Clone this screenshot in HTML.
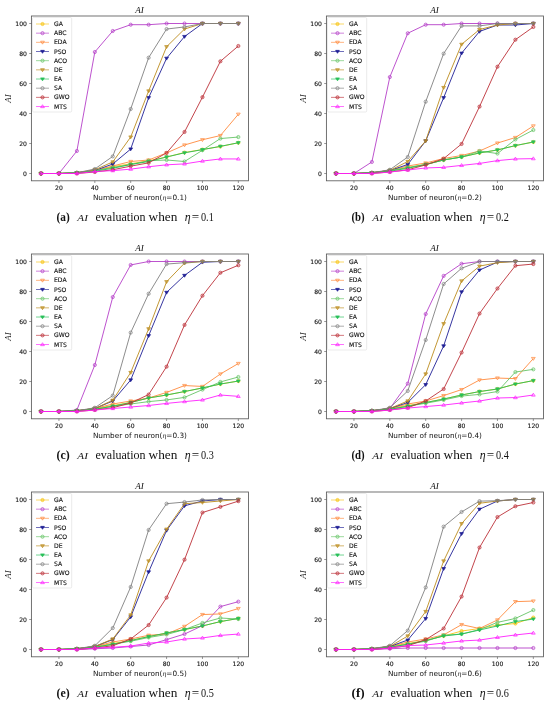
<!DOCTYPE html>
<html><head><meta charset="utf-8"><style>
html,body{margin:0;padding:0;background:#fff;}
body{width:550px;height:705px;overflow:hidden;}
svg{display:block;}
</style></head><body>
<svg width="550" height="705" viewBox="0 0 550 705">
<g transform="translate(0,0)">
<clipPath id="cla"><rect x="31.4" y="16" width="217.05" height="164.8"/></clipPath>
<g clip-path="url(#cla)">
<polyline fill="none" stroke="#f7c518" stroke-width="0.9" stroke-linejoin="round" points="41,173.5 58.94,173.5 76.88,172.75 94.82,170.5 112.76,166.75 130.7,163.75 148.64,160.75 166.58,157 184.52,152.5 202.46,149.5 220.4,146.5 238.34,142.75"/>
<g fill="#f7c518" fill-opacity="0.55" stroke="#f7c518" stroke-width="0.7">
<circle cx="41" cy="173.5" r="1.6"/>
<circle cx="58.94" cy="173.5" r="1.6"/>
<circle cx="76.88" cy="172.75" r="1.6"/>
<circle cx="94.82" cy="170.5" r="1.6"/>
<circle cx="112.76" cy="166.75" r="1.6"/>
<circle cx="130.7" cy="163.75" r="1.6"/>
<circle cx="148.64" cy="160.75" r="1.6"/>
<circle cx="166.58" cy="157" r="1.6"/>
<circle cx="184.52" cy="152.5" r="1.6"/>
<circle cx="202.46" cy="149.5" r="1.6"/>
<circle cx="220.4" cy="146.5" r="1.6"/>
<circle cx="238.34" cy="142.75" r="1.6"/>
</g>
<polyline fill="none" stroke="#b640c8" stroke-width="0.9" stroke-linejoin="round" points="41,173.5 58.94,173.5 76.88,151 94.82,52 112.76,31 130.7,24.7 148.64,24.7 166.58,23.5 184.52,23.5 202.46,23.5 220.4,23.5 238.34,23.5"/>
<g fill="#b640c8" fill-opacity="0.2" stroke="#b640c8" stroke-width="0.7">
<circle cx="41" cy="173.5" r="1.6"/>
<circle cx="58.94" cy="173.5" r="1.6"/>
<circle cx="76.88" cy="151" r="1.6"/>
<circle cx="94.82" cy="52" r="1.6"/>
<circle cx="112.76" cy="31" r="1.6"/>
<circle cx="130.7" cy="24.7" r="1.6"/>
<circle cx="148.64" cy="24.7" r="1.6"/>
<circle cx="166.58" cy="23.5" r="1.6"/>
<circle cx="184.52" cy="23.5" r="1.6"/>
<circle cx="202.46" cy="23.5" r="1.6"/>
<circle cx="220.4" cy="23.5" r="1.6"/>
<circle cx="238.34" cy="23.5" r="1.6"/>
</g>
<polyline fill="none" stroke="#ff8a3d" stroke-width="0.9" stroke-linejoin="round" points="41,173.5 58.94,173.5 76.88,172.75 94.82,170.5 112.76,166 130.7,161.5 148.64,160 166.58,152.95 184.52,145 202.46,139.75 220.4,135.55 238.34,114.25"/>
<g fill="#ff8a3d" fill-opacity="0.15" stroke="#ff8a3d" stroke-width="0.7">
<polygon points="39.1,172.36 42.9,172.36 41,175.31"/>
<polygon points="57.04,172.36 60.84,172.36 58.94,175.31"/>
<polygon points="74.98,171.61 78.78,171.61 76.88,174.56"/>
<polygon points="92.92,169.36 96.72,169.36 94.82,172.31"/>
<polygon points="110.86,164.86 114.66,164.86 112.76,167.81"/>
<polygon points="128.8,160.36 132.6,160.36 130.7,163.31"/>
<polygon points="146.74,158.86 150.54,158.86 148.64,161.81"/>
<polygon points="164.68,151.81 168.48,151.81 166.58,154.75"/>
<polygon points="182.62,143.86 186.42,143.86 184.52,146.81"/>
<polygon points="200.56,138.61 204.36,138.61 202.46,141.56"/>
<polygon points="218.5,134.41 222.3,134.41 220.4,137.36"/>
<polygon points="236.44,113.11 240.24,113.11 238.34,116.06"/>
</g>
<polyline fill="none" stroke="#1f1f95" stroke-width="0.9" stroke-linejoin="round" points="41,173.5 58.94,173.5 76.88,172.75 94.82,170.5 112.76,164.05 130.7,149.05 148.64,97.75 166.58,58.3 184.52,36.55 202.46,23.5 220.4,23.5 238.34,23.5"/>
<g fill="#1f1f95" fill-opacity="1.0" stroke="#1f1f95" stroke-width="0.7">
<polygon points="39.1,172.36 42.9,172.36 41,175.31"/>
<polygon points="57.04,172.36 60.84,172.36 58.94,175.31"/>
<polygon points="74.98,171.61 78.78,171.61 76.88,174.56"/>
<polygon points="92.92,169.36 96.72,169.36 94.82,172.31"/>
<polygon points="110.86,162.91 114.66,162.91 112.76,165.86"/>
<polygon points="128.8,147.91 132.6,147.91 130.7,150.86"/>
<polygon points="146.74,96.61 150.54,96.61 148.64,99.56"/>
<polygon points="164.68,57.16 168.48,57.16 166.58,60.11"/>
<polygon points="182.62,35.41 186.42,35.41 184.52,38.36"/>
<polygon points="200.56,22.36 204.36,22.36 202.46,25.3"/>
<polygon points="218.5,22.36 222.3,22.36 220.4,25.3"/>
<polygon points="236.44,22.36 240.24,22.36 238.34,25.3"/>
</g>
<polyline fill="none" stroke="#66c466" stroke-width="0.9" stroke-linejoin="round" points="41,173.5 58.94,173.5 76.88,172.75 94.82,170.5 112.76,167.5 130.7,164.5 148.64,160.75 166.58,160 184.52,161.5 202.46,150.25 220.4,138.55 238.34,137.05"/>
<g fill="#66c466" fill-opacity="0.2" stroke="#66c466" stroke-width="0.7">
<circle cx="41" cy="173.5" r="1.6"/>
<circle cx="58.94" cy="173.5" r="1.6"/>
<circle cx="76.88" cy="172.75" r="1.6"/>
<circle cx="94.82" cy="170.5" r="1.6"/>
<circle cx="112.76" cy="167.5" r="1.6"/>
<circle cx="130.7" cy="164.5" r="1.6"/>
<circle cx="148.64" cy="160.75" r="1.6"/>
<circle cx="166.58" cy="160" r="1.6"/>
<circle cx="184.52" cy="161.5" r="1.6"/>
<circle cx="202.46" cy="150.25" r="1.6"/>
<circle cx="220.4" cy="138.55" r="1.6"/>
<circle cx="238.34" cy="137.05" r="1.6"/>
</g>
<polyline fill="none" stroke="#bc8c1e" stroke-width="0.9" stroke-linejoin="round" points="41,173.5 58.94,173.5 76.88,172.75 94.82,169.75 112.76,161.95 130.7,137.05 148.64,91 166.58,46.75 184.52,29.05 202.46,23.5 220.4,23.5 238.34,23.5"/>
<g fill="#bc8c1e" fill-opacity="0.6" stroke="#bc8c1e" stroke-width="0.7">
<polygon points="39.1,172.36 42.9,172.36 41,175.31"/>
<polygon points="57.04,172.36 60.84,172.36 58.94,175.31"/>
<polygon points="74.98,171.61 78.78,171.61 76.88,174.56"/>
<polygon points="92.92,168.61 96.72,168.61 94.82,171.56"/>
<polygon points="110.86,160.81 114.66,160.81 112.76,163.75"/>
<polygon points="128.8,135.91 132.6,135.91 130.7,138.86"/>
<polygon points="146.74,89.86 150.54,89.86 148.64,92.81"/>
<polygon points="164.68,45.61 168.48,45.61 166.58,48.55"/>
<polygon points="182.62,27.91 186.42,27.91 184.52,30.86"/>
<polygon points="200.56,22.36 204.36,22.36 202.46,25.3"/>
<polygon points="218.5,22.36 222.3,22.36 220.4,25.3"/>
<polygon points="236.44,22.36 240.24,22.36 238.34,25.3"/>
</g>
<polyline fill="none" stroke="#26c058" stroke-width="0.9" stroke-linejoin="round" points="41,173.5 58.94,173.5 76.88,172.75 94.82,171.25 112.76,168.25 130.7,164.5 148.64,161.5 166.58,157 184.52,152.8 202.46,149.65 220.4,146.35 238.34,142.75"/>
<g fill="#26c058" fill-opacity="1.0" stroke="#26c058" stroke-width="0.7">
<polygon points="39.1,172.36 42.9,172.36 41,175.31"/>
<polygon points="57.04,172.36 60.84,172.36 58.94,175.31"/>
<polygon points="74.98,171.61 78.78,171.61 76.88,174.56"/>
<polygon points="92.92,170.11 96.72,170.11 94.82,173.06"/>
<polygon points="110.86,167.11 114.66,167.11 112.76,170.06"/>
<polygon points="128.8,163.36 132.6,163.36 130.7,166.31"/>
<polygon points="146.74,160.36 150.54,160.36 148.64,163.31"/>
<polygon points="164.68,155.86 168.48,155.86 166.58,158.81"/>
<polygon points="182.62,151.66 186.42,151.66 184.52,154.61"/>
<polygon points="200.56,148.51 204.36,148.51 202.46,151.46"/>
<polygon points="218.5,145.21 222.3,145.21 220.4,148.16"/>
<polygon points="236.44,141.61 240.24,141.61 238.34,144.56"/>
</g>
<polyline fill="none" stroke="#808080" stroke-width="0.9" stroke-linejoin="round" points="41,173.5 58.94,173.5 76.88,172.75 94.82,169 112.76,156.4 130.7,109 148.64,57.7 166.58,29.05 184.52,26.95 202.46,23.5 220.4,23.5 238.34,23.5"/>
<g fill="#808080" fill-opacity="0.1" stroke="#808080" stroke-width="0.7">
<circle cx="41" cy="173.5" r="1.6"/>
<circle cx="58.94" cy="173.5" r="1.6"/>
<circle cx="76.88" cy="172.75" r="1.6"/>
<circle cx="94.82" cy="169" r="1.6"/>
<circle cx="112.76" cy="156.4" r="1.6"/>
<circle cx="130.7" cy="109" r="1.6"/>
<circle cx="148.64" cy="57.7" r="1.6"/>
<circle cx="166.58" cy="29.05" r="1.6"/>
<circle cx="184.52" cy="26.95" r="1.6"/>
<circle cx="202.46" cy="23.5" r="1.6"/>
<circle cx="220.4" cy="23.5" r="1.6"/>
<circle cx="238.34" cy="23.5" r="1.6"/>
</g>
<polyline fill="none" stroke="#bc3038" stroke-width="0.9" stroke-linejoin="round" points="41,173.5 58.94,173.5 76.88,173.5 94.82,172 112.76,169.75 130.7,166.15 148.64,162.85 166.58,152.95 184.52,131.95 202.46,97.15 220.4,61.3 238.34,46"/>
<g fill="#bc3038" fill-opacity="0.3" stroke="#bc3038" stroke-width="0.7">
<circle cx="41" cy="173.5" r="1.6"/>
<circle cx="58.94" cy="173.5" r="1.6"/>
<circle cx="76.88" cy="173.5" r="1.6"/>
<circle cx="94.82" cy="172" r="1.6"/>
<circle cx="112.76" cy="169.75" r="1.6"/>
<circle cx="130.7" cy="166.15" r="1.6"/>
<circle cx="148.64" cy="162.85" r="1.6"/>
<circle cx="166.58" cy="152.95" r="1.6"/>
<circle cx="184.52" cy="131.95" r="1.6"/>
<circle cx="202.46" cy="97.15" r="1.6"/>
<circle cx="220.4" cy="61.3" r="1.6"/>
<circle cx="238.34" cy="46" r="1.6"/>
</g>
<polyline fill="none" stroke="#ff1fff" stroke-width="0.9" stroke-linejoin="round" points="41,173.5 58.94,173.5 76.88,173.5 94.82,171.55 112.76,170.65 130.7,169.15 148.64,166.75 166.58,164.8 184.52,163.9 202.46,161.05 220.4,158.95 238.34,158.95"/>
<g fill="#ff1fff" fill-opacity="0.15" stroke="#ff1fff" stroke-width="0.7">
<polygon points="39.1,174.64 42.9,174.64 41,171.69"/>
<polygon points="57.04,174.64 60.84,174.64 58.94,171.69"/>
<polygon points="74.98,174.64 78.78,174.64 76.88,171.69"/>
<polygon points="92.92,172.69 96.72,172.69 94.82,169.75"/>
<polygon points="110.86,171.79 114.66,171.79 112.76,168.84"/>
<polygon points="128.8,170.29 132.6,170.29 130.7,167.34"/>
<polygon points="146.74,167.89 150.54,167.89 148.64,164.94"/>
<polygon points="164.68,165.94 168.48,165.94 166.58,163"/>
<polygon points="182.62,165.04 186.42,165.04 184.52,162.09"/>
<polygon points="200.56,162.19 204.36,162.19 202.46,159.25"/>
<polygon points="218.5,160.09 222.3,160.09 220.4,157.14"/>
<polygon points="236.44,160.09 240.24,160.09 238.34,157.14"/>
</g>
</g>
<rect x="31.4" y="16" width="217.05" height="164.8" fill="none" stroke="#5a5a5a" stroke-width="0.85"/>
<g stroke="#444" stroke-width="0.55"><line x1="29.2" y1="173.5" x2="31.4" y2="173.5"/><line x1="29.2" y1="143.5" x2="31.4" y2="143.5"/><line x1="29.2" y1="113.5" x2="31.4" y2="113.5"/><line x1="29.2" y1="83.5" x2="31.4" y2="83.5"/><line x1="29.2" y1="53.5" x2="31.4" y2="53.5"/><line x1="29.2" y1="23.5" x2="31.4" y2="23.5"/><line x1="58.94" y1="180.8" x2="58.94" y2="183"/><line x1="94.82" y1="180.8" x2="94.82" y2="183"/><line x1="130.7" y1="180.8" x2="130.7" y2="183"/><line x1="166.58" y1="180.8" x2="166.58" y2="183"/><line x1="202.46" y1="180.8" x2="202.46" y2="183"/><line x1="238.34" y1="180.8" x2="238.34" y2="183"/></g>
<g font-family="DejaVu Sans, sans-serif" font-size="6.1" fill="#111" stroke="#111" stroke-width="0.12"><text x="26.9" y="175.6" text-anchor="end">0</text><text x="26.9" y="145.6" text-anchor="end">20</text><text x="26.9" y="115.6" text-anchor="end">40</text><text x="26.9" y="85.6" text-anchor="end">60</text><text x="26.9" y="55.6" text-anchor="end">80</text><text x="26.9" y="25.6" text-anchor="end">100</text><text x="58.94" y="190.1" text-anchor="middle">20</text><text x="94.82" y="190.1" text-anchor="middle">40</text><text x="130.7" y="190.1" text-anchor="middle">60</text><text x="166.58" y="190.1" text-anchor="middle">80</text><text x="202.46" y="190.1" text-anchor="middle">100</text><text x="238.34" y="190.1" text-anchor="middle">120</text></g>
<text x="139.92" y="199.6" text-anchor="middle" font-family="DejaVu Sans, sans-serif" font-size="7.3" fill="#111">Number of neuron(<tspan font-style="italic" font-size="6.2">η</tspan>=0.1)</text>
<text x="139.62" y="12.5" text-anchor="middle" font-family="Liberation Serif, serif" font-style="italic" font-size="9.1" fill="#111">AI</text>
<text transform="translate(11.4,98.5) rotate(-90)" text-anchor="middle" font-family="Liberation Serif, serif" font-style="italic" font-size="8.8" fill="#111">AI</text>
<rect x="32.5" y="17.5" width="39.2" height="94.5" rx="1.2" fill="#fff" fill-opacity="0.8" stroke="#d6d6d6" stroke-width="0.5"/>
<line x1="36" y1="24" x2="49" y2="24" stroke="#f7c518" stroke-width="0.81" stroke-opacity="0.8"/>
<g fill="#f7c518" fill-opacity="0.55" stroke="#f7c518" stroke-width="0.7"><circle cx="42.5" cy="24" r="1.6"/></g>
<text x="54" y="26.1" font-family="DejaVu Sans, sans-serif" font-size="6.1" fill="#111" stroke="#111" stroke-width="0.12">GA</text>
<line x1="36" y1="33.17" x2="49" y2="33.17" stroke="#b640c8" stroke-width="0.81" stroke-opacity="0.8"/>
<g fill="#b640c8" fill-opacity="0.2" stroke="#b640c8" stroke-width="0.7"><circle cx="42.5" cy="33.17" r="1.6"/></g>
<text x="54" y="35.27" font-family="DejaVu Sans, sans-serif" font-size="6.1" fill="#111" stroke="#111" stroke-width="0.12">ABC</text>
<line x1="36" y1="42.34" x2="49" y2="42.34" stroke="#ff8a3d" stroke-width="0.81" stroke-opacity="0.8"/>
<g fill="#ff8a3d" fill-opacity="0.15" stroke="#ff8a3d" stroke-width="0.7"><polygon points="40.6,41.2 44.4,41.2 42.5,44.15"/></g>
<text x="54" y="44.44" font-family="DejaVu Sans, sans-serif" font-size="6.1" fill="#111" stroke="#111" stroke-width="0.12">EDA</text>
<line x1="36" y1="51.51" x2="49" y2="51.51" stroke="#1f1f95" stroke-width="0.81" stroke-opacity="0.8"/>
<g fill="#1f1f95" fill-opacity="1.0" stroke="#1f1f95" stroke-width="0.7"><polygon points="40.6,50.37 44.4,50.37 42.5,53.31"/></g>
<text x="54" y="53.61" font-family="DejaVu Sans, sans-serif" font-size="6.1" fill="#111" stroke="#111" stroke-width="0.12">PSO</text>
<line x1="36" y1="60.68" x2="49" y2="60.68" stroke="#66c466" stroke-width="0.81" stroke-opacity="0.8"/>
<g fill="#66c466" fill-opacity="0.2" stroke="#66c466" stroke-width="0.7"><circle cx="42.5" cy="60.68" r="1.6"/></g>
<text x="54" y="62.78" font-family="DejaVu Sans, sans-serif" font-size="6.1" fill="#111" stroke="#111" stroke-width="0.12">ACO</text>
<line x1="36" y1="69.85" x2="49" y2="69.85" stroke="#bc8c1e" stroke-width="0.81" stroke-opacity="0.8"/>
<g fill="#bc8c1e" fill-opacity="0.6" stroke="#bc8c1e" stroke-width="0.7"><polygon points="40.6,68.71 44.4,68.71 42.5,71.66"/></g>
<text x="54" y="71.95" font-family="DejaVu Sans, sans-serif" font-size="6.1" fill="#111" stroke="#111" stroke-width="0.12">DE</text>
<line x1="36" y1="79.02" x2="49" y2="79.02" stroke="#26c058" stroke-width="0.81" stroke-opacity="0.8"/>
<g fill="#26c058" fill-opacity="1.0" stroke="#26c058" stroke-width="0.7"><polygon points="40.6,77.88 44.4,77.88 42.5,80.83"/></g>
<text x="54" y="81.12" font-family="DejaVu Sans, sans-serif" font-size="6.1" fill="#111" stroke="#111" stroke-width="0.12">EA</text>
<line x1="36" y1="88.19" x2="49" y2="88.19" stroke="#808080" stroke-width="0.81" stroke-opacity="0.8"/>
<g fill="#808080" fill-opacity="0.1" stroke="#808080" stroke-width="0.7"><circle cx="42.5" cy="88.19" r="1.6"/></g>
<text x="54" y="90.29" font-family="DejaVu Sans, sans-serif" font-size="6.1" fill="#111" stroke="#111" stroke-width="0.12">SA</text>
<line x1="36" y1="97.36" x2="49" y2="97.36" stroke="#bc3038" stroke-width="0.81" stroke-opacity="0.8"/>
<g fill="#bc3038" fill-opacity="0.3" stroke="#bc3038" stroke-width="0.7"><circle cx="42.5" cy="97.36" r="1.6"/></g>
<text x="54" y="99.46" font-family="DejaVu Sans, sans-serif" font-size="6.1" fill="#111" stroke="#111" stroke-width="0.12">GWO</text>
<line x1="36" y1="106.53" x2="49" y2="106.53" stroke="#ff1fff" stroke-width="0.81" stroke-opacity="0.8"/>
<g fill="#ff1fff" fill-opacity="0.15" stroke="#ff1fff" stroke-width="0.7"><polygon points="40.6,107.67 44.4,107.67 42.5,104.72"/></g>
<text x="54" y="108.63" font-family="DejaVu Sans, sans-serif" font-size="6.1" fill="#111" stroke="#111" stroke-width="0.12">MTS</text>
<g font-family="Liberation Serif, serif" font-size="11.8" fill="#111"><text x="56.5" y="220.7" font-weight="bold" textLength="13.2" lengthAdjust="spacingAndGlyphs">(a)</text><text x="77.3" y="220.7" font-style="italic" font-size="8.6" textLength="10.6" lengthAdjust="spacingAndGlyphs">AI</text><text x="95.5" y="220.7" textLength="50" lengthAdjust="spacingAndGlyphs">evaluation</text><text x="148.6" y="220.7" textLength="28.8" lengthAdjust="spacingAndGlyphs">when</text><text x="184.8" y="220.7" font-style="italic">η</text><text x="191.8" y="220.7" textLength="7.4" lengthAdjust="spacingAndGlyphs">=</text><text x="201" y="220.7" textLength="12.8" lengthAdjust="spacingAndGlyphs">0.1</text></g>
</g>
<g transform="translate(295,0)">
<clipPath id="clb"><rect x="31.4" y="16" width="217.05" height="164.8"/></clipPath>
<g clip-path="url(#clb)">
<polyline fill="none" stroke="#f7c518" stroke-width="0.9" stroke-linejoin="round" points="41,173.5 58.94,173.5 76.88,172.75 94.82,170.5 112.76,167.5 130.7,164.5 148.64,160 166.58,157 184.52,152.95 202.46,149.95 220.4,145.6 238.34,142"/>
<g fill="#f7c518" fill-opacity="0.55" stroke="#f7c518" stroke-width="0.7">
<circle cx="41" cy="173.5" r="1.6"/>
<circle cx="58.94" cy="173.5" r="1.6"/>
<circle cx="76.88" cy="172.75" r="1.6"/>
<circle cx="94.82" cy="170.5" r="1.6"/>
<circle cx="112.76" cy="167.5" r="1.6"/>
<circle cx="130.7" cy="164.5" r="1.6"/>
<circle cx="148.64" cy="160" r="1.6"/>
<circle cx="166.58" cy="157" r="1.6"/>
<circle cx="184.52" cy="152.95" r="1.6"/>
<circle cx="202.46" cy="149.95" r="1.6"/>
<circle cx="220.4" cy="145.6" r="1.6"/>
<circle cx="238.34" cy="142" r="1.6"/>
</g>
<polyline fill="none" stroke="#b640c8" stroke-width="0.9" stroke-linejoin="round" points="41,173.5 58.94,173.5 76.88,161.95 94.82,77.05 112.76,33.25 130.7,24.7 148.64,24.7 166.58,23.5 184.52,23.5 202.46,23.5 220.4,23.5 238.34,23.5"/>
<g fill="#b640c8" fill-opacity="0.2" stroke="#b640c8" stroke-width="0.7">
<circle cx="41" cy="173.5" r="1.6"/>
<circle cx="58.94" cy="173.5" r="1.6"/>
<circle cx="76.88" cy="161.95" r="1.6"/>
<circle cx="94.82" cy="77.05" r="1.6"/>
<circle cx="112.76" cy="33.25" r="1.6"/>
<circle cx="130.7" cy="24.7" r="1.6"/>
<circle cx="148.64" cy="24.7" r="1.6"/>
<circle cx="166.58" cy="23.5" r="1.6"/>
<circle cx="184.52" cy="23.5" r="1.6"/>
<circle cx="202.46" cy="23.5" r="1.6"/>
<circle cx="220.4" cy="23.5" r="1.6"/>
<circle cx="238.34" cy="23.5" r="1.6"/>
</g>
<polyline fill="none" stroke="#ff8a3d" stroke-width="0.9" stroke-linejoin="round" points="41,173.5 58.94,173.5 76.88,172.75 94.82,170.5 112.76,166 130.7,163 148.64,158.5 166.58,155.5 184.52,151 202.46,143.05 220.4,137.5 238.34,125.95"/>
<g fill="#ff8a3d" fill-opacity="0.15" stroke="#ff8a3d" stroke-width="0.7">
<polygon points="39.1,172.36 42.9,172.36 41,175.31"/>
<polygon points="57.04,172.36 60.84,172.36 58.94,175.31"/>
<polygon points="74.98,171.61 78.78,171.61 76.88,174.56"/>
<polygon points="92.92,169.36 96.72,169.36 94.82,172.31"/>
<polygon points="110.86,164.86 114.66,164.86 112.76,167.81"/>
<polygon points="128.8,161.86 132.6,161.86 130.7,164.81"/>
<polygon points="146.74,157.36 150.54,157.36 148.64,160.31"/>
<polygon points="164.68,154.36 168.48,154.36 166.58,157.31"/>
<polygon points="182.62,149.86 186.42,149.86 184.52,152.81"/>
<polygon points="200.56,141.91 204.36,141.91 202.46,144.86"/>
<polygon points="218.5,136.36 222.3,136.36 220.4,139.31"/>
<polygon points="236.44,124.81 240.24,124.81 238.34,127.76"/>
</g>
<polyline fill="none" stroke="#1f1f95" stroke-width="0.9" stroke-linejoin="round" points="41,173.5 58.94,173.5 76.88,172.75 94.82,170.5 112.76,164.5 130.7,140.95 148.64,97.75 166.58,53.2 184.52,31.45 202.46,25 220.4,25 238.34,23.5"/>
<g fill="#1f1f95" fill-opacity="1.0" stroke="#1f1f95" stroke-width="0.7">
<polygon points="39.1,172.36 42.9,172.36 41,175.31"/>
<polygon points="57.04,172.36 60.84,172.36 58.94,175.31"/>
<polygon points="74.98,171.61 78.78,171.61 76.88,174.56"/>
<polygon points="92.92,169.36 96.72,169.36 94.82,172.31"/>
<polygon points="110.86,163.36 114.66,163.36 112.76,166.31"/>
<polygon points="128.8,139.81 132.6,139.81 130.7,142.75"/>
<polygon points="146.74,96.61 150.54,96.61 148.64,99.56"/>
<polygon points="164.68,52.06 168.48,52.06 166.58,55"/>
<polygon points="182.62,30.31 186.42,30.31 184.52,33.25"/>
<polygon points="200.56,23.86 204.36,23.86 202.46,26.8"/>
<polygon points="218.5,23.86 222.3,23.86 220.4,26.8"/>
<polygon points="236.44,22.36 240.24,22.36 238.34,25.3"/>
</g>
<polyline fill="none" stroke="#66c466" stroke-width="0.9" stroke-linejoin="round" points="41,173.5 58.94,173.5 76.88,172.75 94.82,170.5 112.76,167.5 130.7,164.5 148.64,160 166.58,157 184.52,151 202.46,153.55 220.4,139.45 238.34,130"/>
<g fill="#66c466" fill-opacity="0.2" stroke="#66c466" stroke-width="0.7">
<circle cx="41" cy="173.5" r="1.6"/>
<circle cx="58.94" cy="173.5" r="1.6"/>
<circle cx="76.88" cy="172.75" r="1.6"/>
<circle cx="94.82" cy="170.5" r="1.6"/>
<circle cx="112.76" cy="167.5" r="1.6"/>
<circle cx="130.7" cy="164.5" r="1.6"/>
<circle cx="148.64" cy="160" r="1.6"/>
<circle cx="166.58" cy="157" r="1.6"/>
<circle cx="184.52" cy="151" r="1.6"/>
<circle cx="202.46" cy="153.55" r="1.6"/>
<circle cx="220.4" cy="139.45" r="1.6"/>
<circle cx="238.34" cy="130" r="1.6"/>
</g>
<polyline fill="none" stroke="#bc8c1e" stroke-width="0.9" stroke-linejoin="round" points="41,173.5 58.94,173.5 76.88,172.75 94.82,170.5 112.76,161.5 130.7,140.95 148.64,87.55 166.58,44.35 184.52,29.5 202.46,25 220.4,23.5 238.34,23.5"/>
<g fill="#bc8c1e" fill-opacity="0.6" stroke="#bc8c1e" stroke-width="0.7">
<polygon points="39.1,172.36 42.9,172.36 41,175.31"/>
<polygon points="57.04,172.36 60.84,172.36 58.94,175.31"/>
<polygon points="74.98,171.61 78.78,171.61 76.88,174.56"/>
<polygon points="92.92,169.36 96.72,169.36 94.82,172.31"/>
<polygon points="110.86,160.36 114.66,160.36 112.76,163.31"/>
<polygon points="128.8,139.81 132.6,139.81 130.7,142.75"/>
<polygon points="146.74,86.41 150.54,86.41 148.64,89.36"/>
<polygon points="164.68,43.21 168.48,43.21 166.58,46.16"/>
<polygon points="182.62,28.36 186.42,28.36 184.52,31.3"/>
<polygon points="200.56,23.86 204.36,23.86 202.46,26.8"/>
<polygon points="218.5,22.36 222.3,22.36 220.4,25.3"/>
<polygon points="236.44,22.36 240.24,22.36 238.34,25.3"/>
</g>
<polyline fill="none" stroke="#26c058" stroke-width="0.9" stroke-linejoin="round" points="41,173.5 58.94,173.5 76.88,172.75 94.82,171.25 112.76,168.25 130.7,164.5 148.64,160 166.58,157 184.52,152.95 202.46,149.95 220.4,145.6 238.34,142"/>
<g fill="#26c058" fill-opacity="1.0" stroke="#26c058" stroke-width="0.7">
<polygon points="39.1,172.36 42.9,172.36 41,175.31"/>
<polygon points="57.04,172.36 60.84,172.36 58.94,175.31"/>
<polygon points="74.98,171.61 78.78,171.61 76.88,174.56"/>
<polygon points="92.92,170.11 96.72,170.11 94.82,173.06"/>
<polygon points="110.86,167.11 114.66,167.11 112.76,170.06"/>
<polygon points="128.8,163.36 132.6,163.36 130.7,166.31"/>
<polygon points="146.74,158.86 150.54,158.86 148.64,161.81"/>
<polygon points="164.68,155.86 168.48,155.86 166.58,158.81"/>
<polygon points="182.62,151.81 186.42,151.81 184.52,154.75"/>
<polygon points="200.56,148.81 204.36,148.81 202.46,151.75"/>
<polygon points="218.5,144.46 222.3,144.46 220.4,147.41"/>
<polygon points="236.44,140.86 240.24,140.86 238.34,143.81"/>
</g>
<polyline fill="none" stroke="#808080" stroke-width="0.9" stroke-linejoin="round" points="41,173.5 58.94,173.5 76.88,172.75 94.82,169.75 112.76,157 130.7,101.65 148.64,53.65 166.58,25.9 184.52,25.9 202.46,23.5 220.4,23.5 238.34,23.5"/>
<g fill="#808080" fill-opacity="0.1" stroke="#808080" stroke-width="0.7">
<circle cx="41" cy="173.5" r="1.6"/>
<circle cx="58.94" cy="173.5" r="1.6"/>
<circle cx="76.88" cy="172.75" r="1.6"/>
<circle cx="94.82" cy="169.75" r="1.6"/>
<circle cx="112.76" cy="157" r="1.6"/>
<circle cx="130.7" cy="101.65" r="1.6"/>
<circle cx="148.64" cy="53.65" r="1.6"/>
<circle cx="166.58" cy="25.9" r="1.6"/>
<circle cx="184.52" cy="25.9" r="1.6"/>
<circle cx="202.46" cy="23.5" r="1.6"/>
<circle cx="220.4" cy="23.5" r="1.6"/>
<circle cx="238.34" cy="23.5" r="1.6"/>
</g>
<polyline fill="none" stroke="#bc3038" stroke-width="0.9" stroke-linejoin="round" points="41,173.5 58.94,173.5 76.88,173.5 94.82,172 112.76,169.75 130.7,164.95 148.64,158.65 166.58,143.95 184.52,106.6 202.46,66.7 220.4,39.7 238.34,26.95"/>
<g fill="#bc3038" fill-opacity="0.3" stroke="#bc3038" stroke-width="0.7">
<circle cx="41" cy="173.5" r="1.6"/>
<circle cx="58.94" cy="173.5" r="1.6"/>
<circle cx="76.88" cy="173.5" r="1.6"/>
<circle cx="94.82" cy="172" r="1.6"/>
<circle cx="112.76" cy="169.75" r="1.6"/>
<circle cx="130.7" cy="164.95" r="1.6"/>
<circle cx="148.64" cy="158.65" r="1.6"/>
<circle cx="166.58" cy="143.95" r="1.6"/>
<circle cx="184.52" cy="106.6" r="1.6"/>
<circle cx="202.46" cy="66.7" r="1.6"/>
<circle cx="220.4" cy="39.7" r="1.6"/>
<circle cx="238.34" cy="26.95" r="1.6"/>
</g>
<polyline fill="none" stroke="#ff1fff" stroke-width="0.9" stroke-linejoin="round" points="41,173.5 58.94,173.5 76.88,173.5 94.82,172 112.76,170.05 130.7,167.95 148.64,167.35 166.58,165.4 184.52,163.45 202.46,160.6 220.4,158.95 238.34,158.65"/>
<g fill="#ff1fff" fill-opacity="0.15" stroke="#ff1fff" stroke-width="0.7">
<polygon points="39.1,174.64 42.9,174.64 41,171.69"/>
<polygon points="57.04,174.64 60.84,174.64 58.94,171.69"/>
<polygon points="74.98,174.64 78.78,174.64 76.88,171.69"/>
<polygon points="92.92,173.14 96.72,173.14 94.82,170.19"/>
<polygon points="110.86,171.19 114.66,171.19 112.76,168.25"/>
<polygon points="128.8,169.09 132.6,169.09 130.7,166.14"/>
<polygon points="146.74,168.49 150.54,168.49 148.64,165.54"/>
<polygon points="164.68,166.54 168.48,166.54 166.58,163.59"/>
<polygon points="182.62,164.59 186.42,164.59 184.52,161.64"/>
<polygon points="200.56,161.74 204.36,161.74 202.46,158.79"/>
<polygon points="218.5,160.09 222.3,160.09 220.4,157.14"/>
<polygon points="236.44,159.79 240.24,159.79 238.34,156.84"/>
</g>
</g>
<rect x="31.4" y="16" width="217.05" height="164.8" fill="none" stroke="#5a5a5a" stroke-width="0.85"/>
<g stroke="#444" stroke-width="0.55"><line x1="29.2" y1="173.5" x2="31.4" y2="173.5"/><line x1="29.2" y1="143.5" x2="31.4" y2="143.5"/><line x1="29.2" y1="113.5" x2="31.4" y2="113.5"/><line x1="29.2" y1="83.5" x2="31.4" y2="83.5"/><line x1="29.2" y1="53.5" x2="31.4" y2="53.5"/><line x1="29.2" y1="23.5" x2="31.4" y2="23.5"/><line x1="58.94" y1="180.8" x2="58.94" y2="183"/><line x1="94.82" y1="180.8" x2="94.82" y2="183"/><line x1="130.7" y1="180.8" x2="130.7" y2="183"/><line x1="166.58" y1="180.8" x2="166.58" y2="183"/><line x1="202.46" y1="180.8" x2="202.46" y2="183"/><line x1="238.34" y1="180.8" x2="238.34" y2="183"/></g>
<g font-family="DejaVu Sans, sans-serif" font-size="6.1" fill="#111" stroke="#111" stroke-width="0.12"><text x="26.9" y="175.6" text-anchor="end">0</text><text x="26.9" y="145.6" text-anchor="end">20</text><text x="26.9" y="115.6" text-anchor="end">40</text><text x="26.9" y="85.6" text-anchor="end">60</text><text x="26.9" y="55.6" text-anchor="end">80</text><text x="26.9" y="25.6" text-anchor="end">100</text><text x="58.94" y="190.1" text-anchor="middle">20</text><text x="94.82" y="190.1" text-anchor="middle">40</text><text x="130.7" y="190.1" text-anchor="middle">60</text><text x="166.58" y="190.1" text-anchor="middle">80</text><text x="202.46" y="190.1" text-anchor="middle">100</text><text x="238.34" y="190.1" text-anchor="middle">120</text></g>
<text x="139.92" y="199.6" text-anchor="middle" font-family="DejaVu Sans, sans-serif" font-size="7.3" fill="#111">Number of neuron(<tspan font-style="italic" font-size="6.2">η</tspan>=0.2)</text>
<text x="139.62" y="12.5" text-anchor="middle" font-family="Liberation Serif, serif" font-style="italic" font-size="9.1" fill="#111">AI</text>
<text transform="translate(11.4,98.5) rotate(-90)" text-anchor="middle" font-family="Liberation Serif, serif" font-style="italic" font-size="8.8" fill="#111">AI</text>
<rect x="32.5" y="17.5" width="39.2" height="94.5" rx="1.2" fill="#fff" fill-opacity="0.8" stroke="#d6d6d6" stroke-width="0.5"/>
<line x1="36" y1="24" x2="49" y2="24" stroke="#f7c518" stroke-width="0.81" stroke-opacity="0.8"/>
<g fill="#f7c518" fill-opacity="0.55" stroke="#f7c518" stroke-width="0.7"><circle cx="42.5" cy="24" r="1.6"/></g>
<text x="54" y="26.1" font-family="DejaVu Sans, sans-serif" font-size="6.1" fill="#111" stroke="#111" stroke-width="0.12">GA</text>
<line x1="36" y1="33.17" x2="49" y2="33.17" stroke="#b640c8" stroke-width="0.81" stroke-opacity="0.8"/>
<g fill="#b640c8" fill-opacity="0.2" stroke="#b640c8" stroke-width="0.7"><circle cx="42.5" cy="33.17" r="1.6"/></g>
<text x="54" y="35.27" font-family="DejaVu Sans, sans-serif" font-size="6.1" fill="#111" stroke="#111" stroke-width="0.12">ABC</text>
<line x1="36" y1="42.34" x2="49" y2="42.34" stroke="#ff8a3d" stroke-width="0.81" stroke-opacity="0.8"/>
<g fill="#ff8a3d" fill-opacity="0.15" stroke="#ff8a3d" stroke-width="0.7"><polygon points="40.6,41.2 44.4,41.2 42.5,44.15"/></g>
<text x="54" y="44.44" font-family="DejaVu Sans, sans-serif" font-size="6.1" fill="#111" stroke="#111" stroke-width="0.12">EDA</text>
<line x1="36" y1="51.51" x2="49" y2="51.51" stroke="#1f1f95" stroke-width="0.81" stroke-opacity="0.8"/>
<g fill="#1f1f95" fill-opacity="1.0" stroke="#1f1f95" stroke-width="0.7"><polygon points="40.6,50.37 44.4,50.37 42.5,53.31"/></g>
<text x="54" y="53.61" font-family="DejaVu Sans, sans-serif" font-size="6.1" fill="#111" stroke="#111" stroke-width="0.12">PSO</text>
<line x1="36" y1="60.68" x2="49" y2="60.68" stroke="#66c466" stroke-width="0.81" stroke-opacity="0.8"/>
<g fill="#66c466" fill-opacity="0.2" stroke="#66c466" stroke-width="0.7"><circle cx="42.5" cy="60.68" r="1.6"/></g>
<text x="54" y="62.78" font-family="DejaVu Sans, sans-serif" font-size="6.1" fill="#111" stroke="#111" stroke-width="0.12">ACO</text>
<line x1="36" y1="69.85" x2="49" y2="69.85" stroke="#bc8c1e" stroke-width="0.81" stroke-opacity="0.8"/>
<g fill="#bc8c1e" fill-opacity="0.6" stroke="#bc8c1e" stroke-width="0.7"><polygon points="40.6,68.71 44.4,68.71 42.5,71.66"/></g>
<text x="54" y="71.95" font-family="DejaVu Sans, sans-serif" font-size="6.1" fill="#111" stroke="#111" stroke-width="0.12">DE</text>
<line x1="36" y1="79.02" x2="49" y2="79.02" stroke="#26c058" stroke-width="0.81" stroke-opacity="0.8"/>
<g fill="#26c058" fill-opacity="1.0" stroke="#26c058" stroke-width="0.7"><polygon points="40.6,77.88 44.4,77.88 42.5,80.83"/></g>
<text x="54" y="81.12" font-family="DejaVu Sans, sans-serif" font-size="6.1" fill="#111" stroke="#111" stroke-width="0.12">EA</text>
<line x1="36" y1="88.19" x2="49" y2="88.19" stroke="#808080" stroke-width="0.81" stroke-opacity="0.8"/>
<g fill="#808080" fill-opacity="0.1" stroke="#808080" stroke-width="0.7"><circle cx="42.5" cy="88.19" r="1.6"/></g>
<text x="54" y="90.29" font-family="DejaVu Sans, sans-serif" font-size="6.1" fill="#111" stroke="#111" stroke-width="0.12">SA</text>
<line x1="36" y1="97.36" x2="49" y2="97.36" stroke="#bc3038" stroke-width="0.81" stroke-opacity="0.8"/>
<g fill="#bc3038" fill-opacity="0.3" stroke="#bc3038" stroke-width="0.7"><circle cx="42.5" cy="97.36" r="1.6"/></g>
<text x="54" y="99.46" font-family="DejaVu Sans, sans-serif" font-size="6.1" fill="#111" stroke="#111" stroke-width="0.12">GWO</text>
<line x1="36" y1="106.53" x2="49" y2="106.53" stroke="#ff1fff" stroke-width="0.81" stroke-opacity="0.8"/>
<g fill="#ff1fff" fill-opacity="0.15" stroke="#ff1fff" stroke-width="0.7"><polygon points="40.6,107.67 44.4,107.67 42.5,104.72"/></g>
<text x="54" y="108.63" font-family="DejaVu Sans, sans-serif" font-size="6.1" fill="#111" stroke="#111" stroke-width="0.12">MTS</text>
<g font-family="Liberation Serif, serif" font-size="11.8" fill="#111"><text x="56.5" y="220.7" font-weight="bold" textLength="13.2" lengthAdjust="spacingAndGlyphs">(b)</text><text x="77.3" y="220.7" font-style="italic" font-size="8.6" textLength="10.6" lengthAdjust="spacingAndGlyphs">AI</text><text x="95.5" y="220.7" textLength="50" lengthAdjust="spacingAndGlyphs">evaluation</text><text x="148.6" y="220.7" textLength="28.8" lengthAdjust="spacingAndGlyphs">when</text><text x="184.8" y="220.7" font-style="italic">η</text><text x="191.8" y="220.7" textLength="7.4" lengthAdjust="spacingAndGlyphs">=</text><text x="201" y="220.7" textLength="12.8" lengthAdjust="spacingAndGlyphs">0.2</text></g>
</g>
<g transform="translate(0,238)">
<clipPath id="clc"><rect x="31.4" y="16" width="217.05" height="164.8"/></clipPath>
<g clip-path="url(#clc)">
<polyline fill="none" stroke="#f7c518" stroke-width="0.9" stroke-linejoin="round" points="41,173.5 58.94,173.5 76.88,172.75 94.82,170.5 112.76,167.5 130.7,164.5 148.64,160 166.58,157 184.52,153.55 202.46,149.95 220.4,146.05 238.34,143.05"/>
<g fill="#f7c518" fill-opacity="0.55" stroke="#f7c518" stroke-width="0.7">
<circle cx="41" cy="173.5" r="1.6"/>
<circle cx="58.94" cy="173.5" r="1.6"/>
<circle cx="76.88" cy="172.75" r="1.6"/>
<circle cx="94.82" cy="170.5" r="1.6"/>
<circle cx="112.76" cy="167.5" r="1.6"/>
<circle cx="130.7" cy="164.5" r="1.6"/>
<circle cx="148.64" cy="160" r="1.6"/>
<circle cx="166.58" cy="157" r="1.6"/>
<circle cx="184.52" cy="153.55" r="1.6"/>
<circle cx="202.46" cy="149.95" r="1.6"/>
<circle cx="220.4" cy="146.05" r="1.6"/>
<circle cx="238.34" cy="143.05" r="1.6"/>
</g>
<polyline fill="none" stroke="#b640c8" stroke-width="0.9" stroke-linejoin="round" points="41,173.5 58.94,173.5 76.88,172 94.82,127 112.76,59.05 130.7,26.95 148.64,23.5 166.58,23.5 184.52,23.5 202.46,23.5 220.4,23.5 238.34,23.5"/>
<g fill="#b640c8" fill-opacity="0.2" stroke="#b640c8" stroke-width="0.7">
<circle cx="41" cy="173.5" r="1.6"/>
<circle cx="58.94" cy="173.5" r="1.6"/>
<circle cx="76.88" cy="172" r="1.6"/>
<circle cx="94.82" cy="127" r="1.6"/>
<circle cx="112.76" cy="59.05" r="1.6"/>
<circle cx="130.7" cy="26.95" r="1.6"/>
<circle cx="148.64" cy="23.5" r="1.6"/>
<circle cx="166.58" cy="23.5" r="1.6"/>
<circle cx="184.52" cy="23.5" r="1.6"/>
<circle cx="202.46" cy="23.5" r="1.6"/>
<circle cx="220.4" cy="23.5" r="1.6"/>
<circle cx="238.34" cy="23.5" r="1.6"/>
</g>
<polyline fill="none" stroke="#ff8a3d" stroke-width="0.9" stroke-linejoin="round" points="41,173.5 58.94,173.5 76.88,172.75 94.82,170.5 112.76,166 130.7,163 148.64,160 166.58,154.45 184.52,147.55 202.46,148.45 220.4,136 238.34,125.5"/>
<g fill="#ff8a3d" fill-opacity="0.15" stroke="#ff8a3d" stroke-width="0.7">
<polygon points="39.1,172.36 42.9,172.36 41,175.31"/>
<polygon points="57.04,172.36 60.84,172.36 58.94,175.31"/>
<polygon points="74.98,171.61 78.78,171.61 76.88,174.56"/>
<polygon points="92.92,169.36 96.72,169.36 94.82,172.31"/>
<polygon points="110.86,164.86 114.66,164.86 112.76,167.81"/>
<polygon points="128.8,161.86 132.6,161.86 130.7,164.81"/>
<polygon points="146.74,158.86 150.54,158.86 148.64,161.81"/>
<polygon points="164.68,153.31 168.48,153.31 166.58,156.25"/>
<polygon points="182.62,146.41 186.42,146.41 184.52,149.36"/>
<polygon points="200.56,147.31 204.36,147.31 202.46,150.25"/>
<polygon points="218.5,134.86 222.3,134.86 220.4,137.81"/>
<polygon points="236.44,124.36 240.24,124.36 238.34,127.31"/>
</g>
<polyline fill="none" stroke="#1f1f95" stroke-width="0.9" stroke-linejoin="round" points="41,173.5 58.94,173.5 76.88,172.75 94.82,170.5 112.76,163 130.7,142 148.64,97.75 166.58,54.4 184.52,37.45 202.46,24.25 220.4,23.5 238.34,23.5"/>
<g fill="#1f1f95" fill-opacity="1.0" stroke="#1f1f95" stroke-width="0.7">
<polygon points="39.1,172.36 42.9,172.36 41,175.31"/>
<polygon points="57.04,172.36 60.84,172.36 58.94,175.31"/>
<polygon points="74.98,171.61 78.78,171.61 76.88,174.56"/>
<polygon points="92.92,169.36 96.72,169.36 94.82,172.31"/>
<polygon points="110.86,161.86 114.66,161.86 112.76,164.81"/>
<polygon points="128.8,140.86 132.6,140.86 130.7,143.81"/>
<polygon points="146.74,96.61 150.54,96.61 148.64,99.56"/>
<polygon points="164.68,53.26 168.48,53.26 166.58,56.2"/>
<polygon points="182.62,36.31 186.42,36.31 184.52,39.25"/>
<polygon points="200.56,23.11 204.36,23.11 202.46,26.05"/>
<polygon points="218.5,22.36 222.3,22.36 220.4,25.3"/>
<polygon points="236.44,22.36 240.24,22.36 238.34,25.3"/>
</g>
<polyline fill="none" stroke="#66c466" stroke-width="0.9" stroke-linejoin="round" points="41,173.5 58.94,173.5 76.88,172.75 94.82,171.25 112.76,168.25 130.7,166 148.64,163.6 166.58,161.95 184.52,159.4 202.46,151.6 220.4,143.95 238.34,139"/>
<g fill="#66c466" fill-opacity="0.2" stroke="#66c466" stroke-width="0.7">
<circle cx="41" cy="173.5" r="1.6"/>
<circle cx="58.94" cy="173.5" r="1.6"/>
<circle cx="76.88" cy="172.75" r="1.6"/>
<circle cx="94.82" cy="171.25" r="1.6"/>
<circle cx="112.76" cy="168.25" r="1.6"/>
<circle cx="130.7" cy="166" r="1.6"/>
<circle cx="148.64" cy="163.6" r="1.6"/>
<circle cx="166.58" cy="161.95" r="1.6"/>
<circle cx="184.52" cy="159.4" r="1.6"/>
<circle cx="202.46" cy="151.6" r="1.6"/>
<circle cx="220.4" cy="143.95" r="1.6"/>
<circle cx="238.34" cy="139" r="1.6"/>
</g>
<polyline fill="none" stroke="#bc8c1e" stroke-width="0.9" stroke-linejoin="round" points="41,173.5 58.94,173.5 76.88,172.75 94.82,170.5 112.76,162.25 130.7,134.5 148.64,90.85 166.58,43.75 184.52,25.15 202.46,23.5 220.4,23.5 238.34,23.5"/>
<g fill="#bc8c1e" fill-opacity="0.6" stroke="#bc8c1e" stroke-width="0.7">
<polygon points="39.1,172.36 42.9,172.36 41,175.31"/>
<polygon points="57.04,172.36 60.84,172.36 58.94,175.31"/>
<polygon points="74.98,171.61 78.78,171.61 76.88,174.56"/>
<polygon points="92.92,169.36 96.72,169.36 94.82,172.31"/>
<polygon points="110.86,161.11 114.66,161.11 112.76,164.06"/>
<polygon points="128.8,133.36 132.6,133.36 130.7,136.31"/>
<polygon points="146.74,89.71 150.54,89.71 148.64,92.66"/>
<polygon points="164.68,42.61 168.48,42.61 166.58,45.55"/>
<polygon points="182.62,24.01 186.42,24.01 184.52,26.95"/>
<polygon points="200.56,22.36 204.36,22.36 202.46,25.3"/>
<polygon points="218.5,22.36 222.3,22.36 220.4,25.3"/>
<polygon points="236.44,22.36 240.24,22.36 238.34,25.3"/>
</g>
<polyline fill="none" stroke="#26c058" stroke-width="0.9" stroke-linejoin="round" points="41,173.5 58.94,173.5 76.88,172.75 94.82,171.25 112.76,168.25 130.7,164.5 148.64,160 166.58,157 184.52,153.55 202.46,149.95 220.4,146.05 238.34,143.05"/>
<g fill="#26c058" fill-opacity="1.0" stroke="#26c058" stroke-width="0.7">
<polygon points="39.1,172.36 42.9,172.36 41,175.31"/>
<polygon points="57.04,172.36 60.84,172.36 58.94,175.31"/>
<polygon points="74.98,171.61 78.78,171.61 76.88,174.56"/>
<polygon points="92.92,170.11 96.72,170.11 94.82,173.06"/>
<polygon points="110.86,167.11 114.66,167.11 112.76,170.06"/>
<polygon points="128.8,163.36 132.6,163.36 130.7,166.31"/>
<polygon points="146.74,158.86 150.54,158.86 148.64,161.81"/>
<polygon points="164.68,155.86 168.48,155.86 166.58,158.81"/>
<polygon points="182.62,152.41 186.42,152.41 184.52,155.36"/>
<polygon points="200.56,148.81 204.36,148.81 202.46,151.75"/>
<polygon points="218.5,144.91 222.3,144.91 220.4,147.86"/>
<polygon points="236.44,141.91 240.24,141.91 238.34,144.86"/>
</g>
<polyline fill="none" stroke="#808080" stroke-width="0.9" stroke-linejoin="round" points="41,173.5 58.94,173.5 76.88,172.75 94.82,169.75 112.76,157.6 130.7,94.6 148.64,55.75 166.58,26.05 184.52,24.7 202.46,23.5 220.4,23.5 238.34,23.5"/>
<g fill="#808080" fill-opacity="0.1" stroke="#808080" stroke-width="0.7">
<circle cx="41" cy="173.5" r="1.6"/>
<circle cx="58.94" cy="173.5" r="1.6"/>
<circle cx="76.88" cy="172.75" r="1.6"/>
<circle cx="94.82" cy="169.75" r="1.6"/>
<circle cx="112.76" cy="157.6" r="1.6"/>
<circle cx="130.7" cy="94.6" r="1.6"/>
<circle cx="148.64" cy="55.75" r="1.6"/>
<circle cx="166.58" cy="26.05" r="1.6"/>
<circle cx="184.52" cy="24.7" r="1.6"/>
<circle cx="202.46" cy="23.5" r="1.6"/>
<circle cx="220.4" cy="23.5" r="1.6"/>
<circle cx="238.34" cy="23.5" r="1.6"/>
</g>
<polyline fill="none" stroke="#bc3038" stroke-width="0.9" stroke-linejoin="round" points="41,173.5 58.94,173.5 76.88,173.5 94.82,172 112.76,169.75 130.7,164.95 148.64,156.55 166.58,128.65 184.52,86.95 202.46,57.7 220.4,34.75 238.34,27.25"/>
<g fill="#bc3038" fill-opacity="0.3" stroke="#bc3038" stroke-width="0.7">
<circle cx="41" cy="173.5" r="1.6"/>
<circle cx="58.94" cy="173.5" r="1.6"/>
<circle cx="76.88" cy="173.5" r="1.6"/>
<circle cx="94.82" cy="172" r="1.6"/>
<circle cx="112.76" cy="169.75" r="1.6"/>
<circle cx="130.7" cy="164.95" r="1.6"/>
<circle cx="148.64" cy="156.55" r="1.6"/>
<circle cx="166.58" cy="128.65" r="1.6"/>
<circle cx="184.52" cy="86.95" r="1.6"/>
<circle cx="202.46" cy="57.7" r="1.6"/>
<circle cx="220.4" cy="34.75" r="1.6"/>
<circle cx="238.34" cy="27.25" r="1.6"/>
</g>
<polyline fill="none" stroke="#ff1fff" stroke-width="0.9" stroke-linejoin="round" points="41,173.5 58.94,173.5 76.88,173.5 94.82,172 112.76,170.5 130.7,169 148.64,167.5 166.58,165.4 184.52,163.6 202.46,161.95 220.4,157 238.34,158.35"/>
<g fill="#ff1fff" fill-opacity="0.15" stroke="#ff1fff" stroke-width="0.7">
<polygon points="39.1,174.64 42.9,174.64 41,171.69"/>
<polygon points="57.04,174.64 60.84,174.64 58.94,171.69"/>
<polygon points="74.98,174.64 78.78,174.64 76.88,171.69"/>
<polygon points="92.92,173.14 96.72,173.14 94.82,170.19"/>
<polygon points="110.86,171.64 114.66,171.64 112.76,168.69"/>
<polygon points="128.8,170.14 132.6,170.14 130.7,167.19"/>
<polygon points="146.74,168.64 150.54,168.64 148.64,165.69"/>
<polygon points="164.68,166.54 168.48,166.54 166.58,163.59"/>
<polygon points="182.62,164.74 186.42,164.74 184.52,161.79"/>
<polygon points="200.56,163.09 204.36,163.09 202.46,160.14"/>
<polygon points="218.5,158.14 222.3,158.14 220.4,155.19"/>
<polygon points="236.44,159.49 240.24,159.49 238.34,156.54"/>
</g>
</g>
<rect x="31.4" y="16" width="217.05" height="164.8" fill="none" stroke="#5a5a5a" stroke-width="0.85"/>
<g stroke="#444" stroke-width="0.55"><line x1="29.2" y1="173.5" x2="31.4" y2="173.5"/><line x1="29.2" y1="143.5" x2="31.4" y2="143.5"/><line x1="29.2" y1="113.5" x2="31.4" y2="113.5"/><line x1="29.2" y1="83.5" x2="31.4" y2="83.5"/><line x1="29.2" y1="53.5" x2="31.4" y2="53.5"/><line x1="29.2" y1="23.5" x2="31.4" y2="23.5"/><line x1="58.94" y1="180.8" x2="58.94" y2="183"/><line x1="94.82" y1="180.8" x2="94.82" y2="183"/><line x1="130.7" y1="180.8" x2="130.7" y2="183"/><line x1="166.58" y1="180.8" x2="166.58" y2="183"/><line x1="202.46" y1="180.8" x2="202.46" y2="183"/><line x1="238.34" y1="180.8" x2="238.34" y2="183"/></g>
<g font-family="DejaVu Sans, sans-serif" font-size="6.1" fill="#111" stroke="#111" stroke-width="0.12"><text x="26.9" y="175.6" text-anchor="end">0</text><text x="26.9" y="145.6" text-anchor="end">20</text><text x="26.9" y="115.6" text-anchor="end">40</text><text x="26.9" y="85.6" text-anchor="end">60</text><text x="26.9" y="55.6" text-anchor="end">80</text><text x="26.9" y="25.6" text-anchor="end">100</text><text x="58.94" y="190.1" text-anchor="middle">20</text><text x="94.82" y="190.1" text-anchor="middle">40</text><text x="130.7" y="190.1" text-anchor="middle">60</text><text x="166.58" y="190.1" text-anchor="middle">80</text><text x="202.46" y="190.1" text-anchor="middle">100</text><text x="238.34" y="190.1" text-anchor="middle">120</text></g>
<text x="139.92" y="199.6" text-anchor="middle" font-family="DejaVu Sans, sans-serif" font-size="7.3" fill="#111">Number of neuron(<tspan font-style="italic" font-size="6.2">η</tspan>=0.3)</text>
<text x="139.62" y="12.5" text-anchor="middle" font-family="Liberation Serif, serif" font-style="italic" font-size="9.1" fill="#111">AI</text>
<text transform="translate(11.4,98.5) rotate(-90)" text-anchor="middle" font-family="Liberation Serif, serif" font-style="italic" font-size="8.8" fill="#111">AI</text>
<rect x="32.5" y="17.5" width="39.2" height="94.5" rx="1.2" fill="#fff" fill-opacity="0.8" stroke="#d6d6d6" stroke-width="0.5"/>
<line x1="36" y1="24" x2="49" y2="24" stroke="#f7c518" stroke-width="0.81" stroke-opacity="0.8"/>
<g fill="#f7c518" fill-opacity="0.55" stroke="#f7c518" stroke-width="0.7"><circle cx="42.5" cy="24" r="1.6"/></g>
<text x="54" y="26.1" font-family="DejaVu Sans, sans-serif" font-size="6.1" fill="#111" stroke="#111" stroke-width="0.12">GA</text>
<line x1="36" y1="33.17" x2="49" y2="33.17" stroke="#b640c8" stroke-width="0.81" stroke-opacity="0.8"/>
<g fill="#b640c8" fill-opacity="0.2" stroke="#b640c8" stroke-width="0.7"><circle cx="42.5" cy="33.17" r="1.6"/></g>
<text x="54" y="35.27" font-family="DejaVu Sans, sans-serif" font-size="6.1" fill="#111" stroke="#111" stroke-width="0.12">ABC</text>
<line x1="36" y1="42.34" x2="49" y2="42.34" stroke="#ff8a3d" stroke-width="0.81" stroke-opacity="0.8"/>
<g fill="#ff8a3d" fill-opacity="0.15" stroke="#ff8a3d" stroke-width="0.7"><polygon points="40.6,41.2 44.4,41.2 42.5,44.15"/></g>
<text x="54" y="44.44" font-family="DejaVu Sans, sans-serif" font-size="6.1" fill="#111" stroke="#111" stroke-width="0.12">EDA</text>
<line x1="36" y1="51.51" x2="49" y2="51.51" stroke="#1f1f95" stroke-width="0.81" stroke-opacity="0.8"/>
<g fill="#1f1f95" fill-opacity="1.0" stroke="#1f1f95" stroke-width="0.7"><polygon points="40.6,50.37 44.4,50.37 42.5,53.31"/></g>
<text x="54" y="53.61" font-family="DejaVu Sans, sans-serif" font-size="6.1" fill="#111" stroke="#111" stroke-width="0.12">PSO</text>
<line x1="36" y1="60.68" x2="49" y2="60.68" stroke="#66c466" stroke-width="0.81" stroke-opacity="0.8"/>
<g fill="#66c466" fill-opacity="0.2" stroke="#66c466" stroke-width="0.7"><circle cx="42.5" cy="60.68" r="1.6"/></g>
<text x="54" y="62.78" font-family="DejaVu Sans, sans-serif" font-size="6.1" fill="#111" stroke="#111" stroke-width="0.12">ACO</text>
<line x1="36" y1="69.85" x2="49" y2="69.85" stroke="#bc8c1e" stroke-width="0.81" stroke-opacity="0.8"/>
<g fill="#bc8c1e" fill-opacity="0.6" stroke="#bc8c1e" stroke-width="0.7"><polygon points="40.6,68.71 44.4,68.71 42.5,71.66"/></g>
<text x="54" y="71.95" font-family="DejaVu Sans, sans-serif" font-size="6.1" fill="#111" stroke="#111" stroke-width="0.12">DE</text>
<line x1="36" y1="79.02" x2="49" y2="79.02" stroke="#26c058" stroke-width="0.81" stroke-opacity="0.8"/>
<g fill="#26c058" fill-opacity="1.0" stroke="#26c058" stroke-width="0.7"><polygon points="40.6,77.88 44.4,77.88 42.5,80.83"/></g>
<text x="54" y="81.12" font-family="DejaVu Sans, sans-serif" font-size="6.1" fill="#111" stroke="#111" stroke-width="0.12">EA</text>
<line x1="36" y1="88.19" x2="49" y2="88.19" stroke="#808080" stroke-width="0.81" stroke-opacity="0.8"/>
<g fill="#808080" fill-opacity="0.1" stroke="#808080" stroke-width="0.7"><circle cx="42.5" cy="88.19" r="1.6"/></g>
<text x="54" y="90.29" font-family="DejaVu Sans, sans-serif" font-size="6.1" fill="#111" stroke="#111" stroke-width="0.12">SA</text>
<line x1="36" y1="97.36" x2="49" y2="97.36" stroke="#bc3038" stroke-width="0.81" stroke-opacity="0.8"/>
<g fill="#bc3038" fill-opacity="0.3" stroke="#bc3038" stroke-width="0.7"><circle cx="42.5" cy="97.36" r="1.6"/></g>
<text x="54" y="99.46" font-family="DejaVu Sans, sans-serif" font-size="6.1" fill="#111" stroke="#111" stroke-width="0.12">GWO</text>
<line x1="36" y1="106.53" x2="49" y2="106.53" stroke="#ff1fff" stroke-width="0.81" stroke-opacity="0.8"/>
<g fill="#ff1fff" fill-opacity="0.15" stroke="#ff1fff" stroke-width="0.7"><polygon points="40.6,107.67 44.4,107.67 42.5,104.72"/></g>
<text x="54" y="108.63" font-family="DejaVu Sans, sans-serif" font-size="6.1" fill="#111" stroke="#111" stroke-width="0.12">MTS</text>
<g font-family="Liberation Serif, serif" font-size="11.8" fill="#111"><text x="56.5" y="220.7" font-weight="bold" textLength="13.2" lengthAdjust="spacingAndGlyphs">(c)</text><text x="77.3" y="220.7" font-style="italic" font-size="8.6" textLength="10.6" lengthAdjust="spacingAndGlyphs">AI</text><text x="95.5" y="220.7" textLength="50" lengthAdjust="spacingAndGlyphs">evaluation</text><text x="148.6" y="220.7" textLength="28.8" lengthAdjust="spacingAndGlyphs">when</text><text x="184.8" y="220.7" font-style="italic">η</text><text x="191.8" y="220.7" textLength="7.4" lengthAdjust="spacingAndGlyphs">=</text><text x="201" y="220.7" textLength="12.8" lengthAdjust="spacingAndGlyphs">0.3</text></g>
</g>
<g transform="translate(295,238)">
<clipPath id="cld"><rect x="31.4" y="16" width="217.05" height="164.8"/></clipPath>
<g clip-path="url(#cld)">
<polyline fill="none" stroke="#f7c518" stroke-width="0.9" stroke-linejoin="round" points="41,173.5 58.94,173.5 76.88,172.75 94.82,170.5 112.76,167.5 130.7,164.5 148.64,161.05 166.58,157 184.52,153.55 202.46,151 220.4,146.05 238.34,142.6"/>
<g fill="#f7c518" fill-opacity="0.55" stroke="#f7c518" stroke-width="0.7">
<circle cx="41" cy="173.5" r="1.6"/>
<circle cx="58.94" cy="173.5" r="1.6"/>
<circle cx="76.88" cy="172.75" r="1.6"/>
<circle cx="94.82" cy="170.5" r="1.6"/>
<circle cx="112.76" cy="167.5" r="1.6"/>
<circle cx="130.7" cy="164.5" r="1.6"/>
<circle cx="148.64" cy="161.05" r="1.6"/>
<circle cx="166.58" cy="157" r="1.6"/>
<circle cx="184.52" cy="153.55" r="1.6"/>
<circle cx="202.46" cy="151" r="1.6"/>
<circle cx="220.4" cy="146.05" r="1.6"/>
<circle cx="238.34" cy="142.6" r="1.6"/>
</g>
<polyline fill="none" stroke="#b640c8" stroke-width="0.9" stroke-linejoin="round" points="41,173.5 58.94,173.5 76.88,172.75 94.82,170.5 112.76,145.6 130.7,76 148.64,37.9 166.58,25.75 184.52,23.5 202.46,23.5 220.4,23.5 238.34,23.5"/>
<g fill="#b640c8" fill-opacity="0.2" stroke="#b640c8" stroke-width="0.7">
<circle cx="41" cy="173.5" r="1.6"/>
<circle cx="58.94" cy="173.5" r="1.6"/>
<circle cx="76.88" cy="172.75" r="1.6"/>
<circle cx="94.82" cy="170.5" r="1.6"/>
<circle cx="112.76" cy="145.6" r="1.6"/>
<circle cx="130.7" cy="76" r="1.6"/>
<circle cx="148.64" cy="37.9" r="1.6"/>
<circle cx="166.58" cy="25.75" r="1.6"/>
<circle cx="184.52" cy="23.5" r="1.6"/>
<circle cx="202.46" cy="23.5" r="1.6"/>
<circle cx="220.4" cy="23.5" r="1.6"/>
<circle cx="238.34" cy="23.5" r="1.6"/>
</g>
<polyline fill="none" stroke="#ff8a3d" stroke-width="0.9" stroke-linejoin="round" points="41,173.5 58.94,173.5 76.88,172.75 94.82,170.5 112.76,166 130.7,163 148.64,157.6 166.58,151.6 184.52,142 202.46,140.05 220.4,140.65 238.34,120.55"/>
<g fill="#ff8a3d" fill-opacity="0.15" stroke="#ff8a3d" stroke-width="0.7">
<polygon points="39.1,172.36 42.9,172.36 41,175.31"/>
<polygon points="57.04,172.36 60.84,172.36 58.94,175.31"/>
<polygon points="74.98,171.61 78.78,171.61 76.88,174.56"/>
<polygon points="92.92,169.36 96.72,169.36 94.82,172.31"/>
<polygon points="110.86,164.86 114.66,164.86 112.76,167.81"/>
<polygon points="128.8,161.86 132.6,161.86 130.7,164.81"/>
<polygon points="146.74,156.46 150.54,156.46 148.64,159.41"/>
<polygon points="164.68,150.46 168.48,150.46 166.58,153.41"/>
<polygon points="182.62,140.86 186.42,140.86 184.52,143.81"/>
<polygon points="200.56,138.91 204.36,138.91 202.46,141.86"/>
<polygon points="218.5,139.51 222.3,139.51 220.4,142.46"/>
<polygon points="236.44,119.41 240.24,119.41 238.34,122.36"/>
</g>
<polyline fill="none" stroke="#1f1f95" stroke-width="0.9" stroke-linejoin="round" points="41,173.5 58.94,173.5 76.88,172.75 94.82,170.5 112.76,164.5 130.7,146.65 148.64,107.95 166.58,53.95 184.52,32.05 202.46,24.1 220.4,23.5 238.34,23.5"/>
<g fill="#1f1f95" fill-opacity="1.0" stroke="#1f1f95" stroke-width="0.7">
<polygon points="39.1,172.36 42.9,172.36 41,175.31"/>
<polygon points="57.04,172.36 60.84,172.36 58.94,175.31"/>
<polygon points="74.98,171.61 78.78,171.61 76.88,174.56"/>
<polygon points="92.92,169.36 96.72,169.36 94.82,172.31"/>
<polygon points="110.86,163.36 114.66,163.36 112.76,166.31"/>
<polygon points="128.8,145.51 132.6,145.51 130.7,148.46"/>
<polygon points="146.74,106.81 150.54,106.81 148.64,109.75"/>
<polygon points="164.68,52.81 168.48,52.81 166.58,55.75"/>
<polygon points="182.62,30.91 186.42,30.91 184.52,33.86"/>
<polygon points="200.56,22.96 204.36,22.96 202.46,25.91"/>
<polygon points="218.5,22.36 222.3,22.36 220.4,25.3"/>
<polygon points="236.44,22.36 240.24,22.36 238.34,25.3"/>
</g>
<polyline fill="none" stroke="#66c466" stroke-width="0.9" stroke-linejoin="round" points="41,173.5 58.94,173.5 76.88,172.75 94.82,171.25 112.76,168.25 130.7,165.25 148.64,161.95 166.58,158.05 184.52,156.4 202.46,153.55 220.4,134.05 238.34,131.35"/>
<g fill="#66c466" fill-opacity="0.2" stroke="#66c466" stroke-width="0.7">
<circle cx="41" cy="173.5" r="1.6"/>
<circle cx="58.94" cy="173.5" r="1.6"/>
<circle cx="76.88" cy="172.75" r="1.6"/>
<circle cx="94.82" cy="171.25" r="1.6"/>
<circle cx="112.76" cy="168.25" r="1.6"/>
<circle cx="130.7" cy="165.25" r="1.6"/>
<circle cx="148.64" cy="161.95" r="1.6"/>
<circle cx="166.58" cy="158.05" r="1.6"/>
<circle cx="184.52" cy="156.4" r="1.6"/>
<circle cx="202.46" cy="153.55" r="1.6"/>
<circle cx="220.4" cy="134.05" r="1.6"/>
<circle cx="238.34" cy="131.35" r="1.6"/>
</g>
<polyline fill="none" stroke="#bc8c1e" stroke-width="0.9" stroke-linejoin="round" points="41,173.5 58.94,173.5 76.88,172.75 94.82,170.5 112.76,163 130.7,136 148.64,85.75 166.58,43 184.52,28.15 202.46,24.7 220.4,23.5 238.34,23.5"/>
<g fill="#bc8c1e" fill-opacity="0.6" stroke="#bc8c1e" stroke-width="0.7">
<polygon points="39.1,172.36 42.9,172.36 41,175.31"/>
<polygon points="57.04,172.36 60.84,172.36 58.94,175.31"/>
<polygon points="74.98,171.61 78.78,171.61 76.88,174.56"/>
<polygon points="92.92,169.36 96.72,169.36 94.82,172.31"/>
<polygon points="110.86,161.86 114.66,161.86 112.76,164.81"/>
<polygon points="128.8,134.86 132.6,134.86 130.7,137.81"/>
<polygon points="146.74,84.61 150.54,84.61 148.64,87.56"/>
<polygon points="164.68,41.86 168.48,41.86 166.58,44.8"/>
<polygon points="182.62,27.01 186.42,27.01 184.52,29.95"/>
<polygon points="200.56,23.56 204.36,23.56 202.46,26.5"/>
<polygon points="218.5,22.36 222.3,22.36 220.4,25.3"/>
<polygon points="236.44,22.36 240.24,22.36 238.34,25.3"/>
</g>
<polyline fill="none" stroke="#26c058" stroke-width="0.9" stroke-linejoin="round" points="41,173.5 58.94,173.5 76.88,172.75 94.82,171.25 112.76,168.25 130.7,164.5 148.64,161.05 166.58,157 184.52,153.55 202.46,151 220.4,146.05 238.34,142.6"/>
<g fill="#26c058" fill-opacity="1.0" stroke="#26c058" stroke-width="0.7">
<polygon points="39.1,172.36 42.9,172.36 41,175.31"/>
<polygon points="57.04,172.36 60.84,172.36 58.94,175.31"/>
<polygon points="74.98,171.61 78.78,171.61 76.88,174.56"/>
<polygon points="92.92,170.11 96.72,170.11 94.82,173.06"/>
<polygon points="110.86,167.11 114.66,167.11 112.76,170.06"/>
<polygon points="128.8,163.36 132.6,163.36 130.7,166.31"/>
<polygon points="146.74,159.91 150.54,159.91 148.64,162.86"/>
<polygon points="164.68,155.86 168.48,155.86 166.58,158.81"/>
<polygon points="182.62,152.41 186.42,152.41 184.52,155.36"/>
<polygon points="200.56,149.86 204.36,149.86 202.46,152.81"/>
<polygon points="218.5,144.91 222.3,144.91 220.4,147.86"/>
<polygon points="236.44,141.46 240.24,141.46 238.34,144.41"/>
</g>
<polyline fill="none" stroke="#808080" stroke-width="0.9" stroke-linejoin="round" points="41,173.5 58.94,173.5 76.88,172.75 94.82,169.75 112.76,152.95 130.7,101.95 148.64,46 166.58,30.25 184.52,23.5 202.46,23.5 220.4,23.5 238.34,23.5"/>
<g fill="#808080" fill-opacity="0.1" stroke="#808080" stroke-width="0.7">
<circle cx="41" cy="173.5" r="1.6"/>
<circle cx="58.94" cy="173.5" r="1.6"/>
<circle cx="76.88" cy="172.75" r="1.6"/>
<circle cx="94.82" cy="169.75" r="1.6"/>
<circle cx="112.76" cy="152.95" r="1.6"/>
<circle cx="130.7" cy="101.95" r="1.6"/>
<circle cx="148.64" cy="46" r="1.6"/>
<circle cx="166.58" cy="30.25" r="1.6"/>
<circle cx="184.52" cy="23.5" r="1.6"/>
<circle cx="202.46" cy="23.5" r="1.6"/>
<circle cx="220.4" cy="23.5" r="1.6"/>
<circle cx="238.34" cy="23.5" r="1.6"/>
</g>
<polyline fill="none" stroke="#bc3038" stroke-width="0.9" stroke-linejoin="round" points="41,173.5 58.94,173.5 76.88,173.5 94.82,172 112.76,169.75 130.7,163 148.64,151 166.58,114.55 184.52,75.55 202.46,50.5 220.4,27.7 238.34,26.05"/>
<g fill="#bc3038" fill-opacity="0.3" stroke="#bc3038" stroke-width="0.7">
<circle cx="41" cy="173.5" r="1.6"/>
<circle cx="58.94" cy="173.5" r="1.6"/>
<circle cx="76.88" cy="173.5" r="1.6"/>
<circle cx="94.82" cy="172" r="1.6"/>
<circle cx="112.76" cy="169.75" r="1.6"/>
<circle cx="130.7" cy="163" r="1.6"/>
<circle cx="148.64" cy="151" r="1.6"/>
<circle cx="166.58" cy="114.55" r="1.6"/>
<circle cx="184.52" cy="75.55" r="1.6"/>
<circle cx="202.46" cy="50.5" r="1.6"/>
<circle cx="220.4" cy="27.7" r="1.6"/>
<circle cx="238.34" cy="26.05" r="1.6"/>
</g>
<polyline fill="none" stroke="#ff1fff" stroke-width="0.9" stroke-linejoin="round" points="41,173.5 58.94,173.5 76.88,173.5 94.82,172 112.76,170.05 130.7,168.55 148.64,167.05 166.58,164.95 184.52,163 202.46,160 220.4,159.55 238.34,157"/>
<g fill="#ff1fff" fill-opacity="0.15" stroke="#ff1fff" stroke-width="0.7">
<polygon points="39.1,174.64 42.9,174.64 41,171.69"/>
<polygon points="57.04,174.64 60.84,174.64 58.94,171.69"/>
<polygon points="74.98,174.64 78.78,174.64 76.88,171.69"/>
<polygon points="92.92,173.14 96.72,173.14 94.82,170.19"/>
<polygon points="110.86,171.19 114.66,171.19 112.76,168.25"/>
<polygon points="128.8,169.69 132.6,169.69 130.7,166.75"/>
<polygon points="146.74,168.19 150.54,168.19 148.64,165.25"/>
<polygon points="164.68,166.09 168.48,166.09 166.58,163.14"/>
<polygon points="182.62,164.14 186.42,164.14 184.52,161.19"/>
<polygon points="200.56,161.14 204.36,161.14 202.46,158.19"/>
<polygon points="218.5,160.69 222.3,160.69 220.4,157.75"/>
<polygon points="236.44,158.14 240.24,158.14 238.34,155.19"/>
</g>
</g>
<rect x="31.4" y="16" width="217.05" height="164.8" fill="none" stroke="#5a5a5a" stroke-width="0.85"/>
<g stroke="#444" stroke-width="0.55"><line x1="29.2" y1="173.5" x2="31.4" y2="173.5"/><line x1="29.2" y1="143.5" x2="31.4" y2="143.5"/><line x1="29.2" y1="113.5" x2="31.4" y2="113.5"/><line x1="29.2" y1="83.5" x2="31.4" y2="83.5"/><line x1="29.2" y1="53.5" x2="31.4" y2="53.5"/><line x1="29.2" y1="23.5" x2="31.4" y2="23.5"/><line x1="58.94" y1="180.8" x2="58.94" y2="183"/><line x1="94.82" y1="180.8" x2="94.82" y2="183"/><line x1="130.7" y1="180.8" x2="130.7" y2="183"/><line x1="166.58" y1="180.8" x2="166.58" y2="183"/><line x1="202.46" y1="180.8" x2="202.46" y2="183"/><line x1="238.34" y1="180.8" x2="238.34" y2="183"/></g>
<g font-family="DejaVu Sans, sans-serif" font-size="6.1" fill="#111" stroke="#111" stroke-width="0.12"><text x="26.9" y="175.6" text-anchor="end">0</text><text x="26.9" y="145.6" text-anchor="end">20</text><text x="26.9" y="115.6" text-anchor="end">40</text><text x="26.9" y="85.6" text-anchor="end">60</text><text x="26.9" y="55.6" text-anchor="end">80</text><text x="26.9" y="25.6" text-anchor="end">100</text><text x="58.94" y="190.1" text-anchor="middle">20</text><text x="94.82" y="190.1" text-anchor="middle">40</text><text x="130.7" y="190.1" text-anchor="middle">60</text><text x="166.58" y="190.1" text-anchor="middle">80</text><text x="202.46" y="190.1" text-anchor="middle">100</text><text x="238.34" y="190.1" text-anchor="middle">120</text></g>
<text x="139.92" y="199.6" text-anchor="middle" font-family="DejaVu Sans, sans-serif" font-size="7.3" fill="#111">Number of neuron(<tspan font-style="italic" font-size="6.2">η</tspan>=0.4)</text>
<text x="139.62" y="12.5" text-anchor="middle" font-family="Liberation Serif, serif" font-style="italic" font-size="9.1" fill="#111">AI</text>
<text transform="translate(11.4,98.5) rotate(-90)" text-anchor="middle" font-family="Liberation Serif, serif" font-style="italic" font-size="8.8" fill="#111">AI</text>
<rect x="32.5" y="17.5" width="39.2" height="94.5" rx="1.2" fill="#fff" fill-opacity="0.8" stroke="#d6d6d6" stroke-width="0.5"/>
<line x1="36" y1="24" x2="49" y2="24" stroke="#f7c518" stroke-width="0.81" stroke-opacity="0.8"/>
<g fill="#f7c518" fill-opacity="0.55" stroke="#f7c518" stroke-width="0.7"><circle cx="42.5" cy="24" r="1.6"/></g>
<text x="54" y="26.1" font-family="DejaVu Sans, sans-serif" font-size="6.1" fill="#111" stroke="#111" stroke-width="0.12">GA</text>
<line x1="36" y1="33.17" x2="49" y2="33.17" stroke="#b640c8" stroke-width="0.81" stroke-opacity="0.8"/>
<g fill="#b640c8" fill-opacity="0.2" stroke="#b640c8" stroke-width="0.7"><circle cx="42.5" cy="33.17" r="1.6"/></g>
<text x="54" y="35.27" font-family="DejaVu Sans, sans-serif" font-size="6.1" fill="#111" stroke="#111" stroke-width="0.12">ABC</text>
<line x1="36" y1="42.34" x2="49" y2="42.34" stroke="#ff8a3d" stroke-width="0.81" stroke-opacity="0.8"/>
<g fill="#ff8a3d" fill-opacity="0.15" stroke="#ff8a3d" stroke-width="0.7"><polygon points="40.6,41.2 44.4,41.2 42.5,44.15"/></g>
<text x="54" y="44.44" font-family="DejaVu Sans, sans-serif" font-size="6.1" fill="#111" stroke="#111" stroke-width="0.12">EDA</text>
<line x1="36" y1="51.51" x2="49" y2="51.51" stroke="#1f1f95" stroke-width="0.81" stroke-opacity="0.8"/>
<g fill="#1f1f95" fill-opacity="1.0" stroke="#1f1f95" stroke-width="0.7"><polygon points="40.6,50.37 44.4,50.37 42.5,53.31"/></g>
<text x="54" y="53.61" font-family="DejaVu Sans, sans-serif" font-size="6.1" fill="#111" stroke="#111" stroke-width="0.12">PSO</text>
<line x1="36" y1="60.68" x2="49" y2="60.68" stroke="#66c466" stroke-width="0.81" stroke-opacity="0.8"/>
<g fill="#66c466" fill-opacity="0.2" stroke="#66c466" stroke-width="0.7"><circle cx="42.5" cy="60.68" r="1.6"/></g>
<text x="54" y="62.78" font-family="DejaVu Sans, sans-serif" font-size="6.1" fill="#111" stroke="#111" stroke-width="0.12">ACO</text>
<line x1="36" y1="69.85" x2="49" y2="69.85" stroke="#bc8c1e" stroke-width="0.81" stroke-opacity="0.8"/>
<g fill="#bc8c1e" fill-opacity="0.6" stroke="#bc8c1e" stroke-width="0.7"><polygon points="40.6,68.71 44.4,68.71 42.5,71.66"/></g>
<text x="54" y="71.95" font-family="DejaVu Sans, sans-serif" font-size="6.1" fill="#111" stroke="#111" stroke-width="0.12">DE</text>
<line x1="36" y1="79.02" x2="49" y2="79.02" stroke="#26c058" stroke-width="0.81" stroke-opacity="0.8"/>
<g fill="#26c058" fill-opacity="1.0" stroke="#26c058" stroke-width="0.7"><polygon points="40.6,77.88 44.4,77.88 42.5,80.83"/></g>
<text x="54" y="81.12" font-family="DejaVu Sans, sans-serif" font-size="6.1" fill="#111" stroke="#111" stroke-width="0.12">EA</text>
<line x1="36" y1="88.19" x2="49" y2="88.19" stroke="#808080" stroke-width="0.81" stroke-opacity="0.8"/>
<g fill="#808080" fill-opacity="0.1" stroke="#808080" stroke-width="0.7"><circle cx="42.5" cy="88.19" r="1.6"/></g>
<text x="54" y="90.29" font-family="DejaVu Sans, sans-serif" font-size="6.1" fill="#111" stroke="#111" stroke-width="0.12">SA</text>
<line x1="36" y1="97.36" x2="49" y2="97.36" stroke="#bc3038" stroke-width="0.81" stroke-opacity="0.8"/>
<g fill="#bc3038" fill-opacity="0.3" stroke="#bc3038" stroke-width="0.7"><circle cx="42.5" cy="97.36" r="1.6"/></g>
<text x="54" y="99.46" font-family="DejaVu Sans, sans-serif" font-size="6.1" fill="#111" stroke="#111" stroke-width="0.12">GWO</text>
<line x1="36" y1="106.53" x2="49" y2="106.53" stroke="#ff1fff" stroke-width="0.81" stroke-opacity="0.8"/>
<g fill="#ff1fff" fill-opacity="0.15" stroke="#ff1fff" stroke-width="0.7"><polygon points="40.6,107.67 44.4,107.67 42.5,104.72"/></g>
<text x="54" y="108.63" font-family="DejaVu Sans, sans-serif" font-size="6.1" fill="#111" stroke="#111" stroke-width="0.12">MTS</text>
<g font-family="Liberation Serif, serif" font-size="11.8" fill="#111"><text x="56.5" y="220.7" font-weight="bold" textLength="13.2" lengthAdjust="spacingAndGlyphs">(d)</text><text x="77.3" y="220.7" font-style="italic" font-size="8.6" textLength="10.6" lengthAdjust="spacingAndGlyphs">AI</text><text x="95.5" y="220.7" textLength="50" lengthAdjust="spacingAndGlyphs">evaluation</text><text x="148.6" y="220.7" textLength="28.8" lengthAdjust="spacingAndGlyphs">when</text><text x="184.8" y="220.7" font-style="italic">η</text><text x="191.8" y="220.7" textLength="7.4" lengthAdjust="spacingAndGlyphs">=</text><text x="201" y="220.7" textLength="12.8" lengthAdjust="spacingAndGlyphs">0.4</text></g>
</g>
<g transform="translate(0,476)">
<clipPath id="cle"><rect x="31.4" y="16" width="217.05" height="164.8"/></clipPath>
<g clip-path="url(#cle)">
<polyline fill="none" stroke="#f7c518" stroke-width="0.9" stroke-linejoin="round" points="41,173.5 58.94,173.5 76.88,172.75 94.82,170.5 112.76,167.5 130.7,164.5 148.64,160.6 166.58,157 184.52,153.55 202.46,149.95 220.4,145.6 238.34,142.45"/>
<g fill="#f7c518" fill-opacity="0.55" stroke="#f7c518" stroke-width="0.7">
<circle cx="41" cy="173.5" r="1.6"/>
<circle cx="58.94" cy="173.5" r="1.6"/>
<circle cx="76.88" cy="172.75" r="1.6"/>
<circle cx="94.82" cy="170.5" r="1.6"/>
<circle cx="112.76" cy="167.5" r="1.6"/>
<circle cx="130.7" cy="164.5" r="1.6"/>
<circle cx="148.64" cy="160.6" r="1.6"/>
<circle cx="166.58" cy="157" r="1.6"/>
<circle cx="184.52" cy="153.55" r="1.6"/>
<circle cx="202.46" cy="149.95" r="1.6"/>
<circle cx="220.4" cy="145.6" r="1.6"/>
<circle cx="238.34" cy="142.45" r="1.6"/>
</g>
<polyline fill="none" stroke="#b640c8" stroke-width="0.9" stroke-linejoin="round" points="41,173.5 58.94,173.5 76.88,173.5 94.82,172.75 112.76,172 130.7,170.5 148.64,169 166.58,163.6 184.52,158.05 202.46,149.65 220.4,130.6 238.34,125.65"/>
<g fill="#b640c8" fill-opacity="0.2" stroke="#b640c8" stroke-width="0.7">
<circle cx="41" cy="173.5" r="1.6"/>
<circle cx="58.94" cy="173.5" r="1.6"/>
<circle cx="76.88" cy="173.5" r="1.6"/>
<circle cx="94.82" cy="172.75" r="1.6"/>
<circle cx="112.76" cy="172" r="1.6"/>
<circle cx="130.7" cy="170.5" r="1.6"/>
<circle cx="148.64" cy="169" r="1.6"/>
<circle cx="166.58" cy="163.6" r="1.6"/>
<circle cx="184.52" cy="158.05" r="1.6"/>
<circle cx="202.46" cy="149.65" r="1.6"/>
<circle cx="220.4" cy="130.6" r="1.6"/>
<circle cx="238.34" cy="125.65" r="1.6"/>
</g>
<polyline fill="none" stroke="#ff8a3d" stroke-width="0.9" stroke-linejoin="round" points="41,173.5 58.94,173.5 76.88,172.75 94.82,170.5 112.76,166 130.7,163 148.64,159.25 166.58,158.05 184.52,150.4 202.46,138.55 220.4,137.95 238.34,132.55"/>
<g fill="#ff8a3d" fill-opacity="0.15" stroke="#ff8a3d" stroke-width="0.7">
<polygon points="39.1,172.36 42.9,172.36 41,175.31"/>
<polygon points="57.04,172.36 60.84,172.36 58.94,175.31"/>
<polygon points="74.98,171.61 78.78,171.61 76.88,174.56"/>
<polygon points="92.92,169.36 96.72,169.36 94.82,172.31"/>
<polygon points="110.86,164.86 114.66,164.86 112.76,167.81"/>
<polygon points="128.8,161.86 132.6,161.86 130.7,164.81"/>
<polygon points="146.74,158.11 150.54,158.11 148.64,161.06"/>
<polygon points="164.68,156.91 168.48,156.91 166.58,159.86"/>
<polygon points="182.62,149.26 186.42,149.26 184.52,152.21"/>
<polygon points="200.56,137.41 204.36,137.41 202.46,140.36"/>
<polygon points="218.5,136.81 222.3,136.81 220.4,139.75"/>
<polygon points="236.44,131.41 240.24,131.41 238.34,134.36"/>
</g>
<polyline fill="none" stroke="#1f1f95" stroke-width="0.9" stroke-linejoin="round" points="41,173.5 58.94,173.5 76.88,172.75 94.82,170.5 112.76,163.6 130.7,140.95 148.64,95.95 166.58,54.4 184.52,29.8 202.46,25 220.4,23.5 238.34,23.5"/>
<g fill="#1f1f95" fill-opacity="1.0" stroke="#1f1f95" stroke-width="0.7">
<polygon points="39.1,172.36 42.9,172.36 41,175.31"/>
<polygon points="57.04,172.36 60.84,172.36 58.94,175.31"/>
<polygon points="74.98,171.61 78.78,171.61 76.88,174.56"/>
<polygon points="92.92,169.36 96.72,169.36 94.82,172.31"/>
<polygon points="110.86,162.46 114.66,162.46 112.76,165.41"/>
<polygon points="128.8,139.81 132.6,139.81 130.7,142.75"/>
<polygon points="146.74,94.81 150.54,94.81 148.64,97.75"/>
<polygon points="164.68,53.26 168.48,53.26 166.58,56.2"/>
<polygon points="182.62,28.66 186.42,28.66 184.52,31.61"/>
<polygon points="200.56,23.86 204.36,23.86 202.46,26.8"/>
<polygon points="218.5,22.36 222.3,22.36 220.4,25.3"/>
<polygon points="236.44,22.36 240.24,22.36 238.34,25.3"/>
</g>
<polyline fill="none" stroke="#66c466" stroke-width="0.9" stroke-linejoin="round" points="41,173.5 58.94,173.5 76.88,172.75 94.82,171.25 112.76,168.25 130.7,165.25 148.64,161.5 166.58,158.5 184.52,153.55 202.46,146.95 220.4,142 238.34,143.05"/>
<g fill="#66c466" fill-opacity="0.2" stroke="#66c466" stroke-width="0.7">
<circle cx="41" cy="173.5" r="1.6"/>
<circle cx="58.94" cy="173.5" r="1.6"/>
<circle cx="76.88" cy="172.75" r="1.6"/>
<circle cx="94.82" cy="171.25" r="1.6"/>
<circle cx="112.76" cy="168.25" r="1.6"/>
<circle cx="130.7" cy="165.25" r="1.6"/>
<circle cx="148.64" cy="161.5" r="1.6"/>
<circle cx="166.58" cy="158.5" r="1.6"/>
<circle cx="184.52" cy="153.55" r="1.6"/>
<circle cx="202.46" cy="146.95" r="1.6"/>
<circle cx="220.4" cy="142" r="1.6"/>
<circle cx="238.34" cy="143.05" r="1.6"/>
</g>
<polyline fill="none" stroke="#bc8c1e" stroke-width="0.9" stroke-linejoin="round" points="41,173.5 58.94,173.5 76.88,172.75 94.82,170.5 112.76,163 130.7,139 148.64,85 166.58,53.2 184.52,27.7 202.46,26.5 220.4,25 238.34,23.5"/>
<g fill="#bc8c1e" fill-opacity="0.6" stroke="#bc8c1e" stroke-width="0.7">
<polygon points="39.1,172.36 42.9,172.36 41,175.31"/>
<polygon points="57.04,172.36 60.84,172.36 58.94,175.31"/>
<polygon points="74.98,171.61 78.78,171.61 76.88,174.56"/>
<polygon points="92.92,169.36 96.72,169.36 94.82,172.31"/>
<polygon points="110.86,161.86 114.66,161.86 112.76,164.81"/>
<polygon points="128.8,137.86 132.6,137.86 130.7,140.81"/>
<polygon points="146.74,83.86 150.54,83.86 148.64,86.81"/>
<polygon points="164.68,52.06 168.48,52.06 166.58,55"/>
<polygon points="182.62,26.56 186.42,26.56 184.52,29.5"/>
<polygon points="200.56,25.36 204.36,25.36 202.46,28.3"/>
<polygon points="218.5,23.86 222.3,23.86 220.4,26.8"/>
<polygon points="236.44,22.36 240.24,22.36 238.34,25.3"/>
</g>
<polyline fill="none" stroke="#26c058" stroke-width="0.9" stroke-linejoin="round" points="41,173.5 58.94,173.5 76.88,172.75 94.82,171.25 112.76,168.25 130.7,164.5 148.64,160.6 166.58,157 184.52,153.55 202.46,149.95 220.4,145.6 238.34,142.45"/>
<g fill="#26c058" fill-opacity="1.0" stroke="#26c058" stroke-width="0.7">
<polygon points="39.1,172.36 42.9,172.36 41,175.31"/>
<polygon points="57.04,172.36 60.84,172.36 58.94,175.31"/>
<polygon points="74.98,171.61 78.78,171.61 76.88,174.56"/>
<polygon points="92.92,170.11 96.72,170.11 94.82,173.06"/>
<polygon points="110.86,167.11 114.66,167.11 112.76,170.06"/>
<polygon points="128.8,163.36 132.6,163.36 130.7,166.31"/>
<polygon points="146.74,159.46 150.54,159.46 148.64,162.41"/>
<polygon points="164.68,155.86 168.48,155.86 166.58,158.81"/>
<polygon points="182.62,152.41 186.42,152.41 184.52,155.36"/>
<polygon points="200.56,148.81 204.36,148.81 202.46,151.75"/>
<polygon points="218.5,144.46 222.3,144.46 220.4,147.41"/>
<polygon points="236.44,141.31 240.24,141.31 238.34,144.25"/>
</g>
<polyline fill="none" stroke="#808080" stroke-width="0.9" stroke-linejoin="round" points="41,173.5 58.94,173.5 76.88,172.75 94.82,169.75 112.76,152.05 130.7,110.95 148.64,53.95 166.58,27.7 184.52,26.05 202.46,23.95 220.4,23.5 238.34,23.5"/>
<g fill="#808080" fill-opacity="0.1" stroke="#808080" stroke-width="0.7">
<circle cx="41" cy="173.5" r="1.6"/>
<circle cx="58.94" cy="173.5" r="1.6"/>
<circle cx="76.88" cy="172.75" r="1.6"/>
<circle cx="94.82" cy="169.75" r="1.6"/>
<circle cx="112.76" cy="152.05" r="1.6"/>
<circle cx="130.7" cy="110.95" r="1.6"/>
<circle cx="148.64" cy="53.95" r="1.6"/>
<circle cx="166.58" cy="27.7" r="1.6"/>
<circle cx="184.52" cy="26.05" r="1.6"/>
<circle cx="202.46" cy="23.95" r="1.6"/>
<circle cx="220.4" cy="23.5" r="1.6"/>
<circle cx="238.34" cy="23.5" r="1.6"/>
</g>
<polyline fill="none" stroke="#bc3038" stroke-width="0.9" stroke-linejoin="round" points="41,173.5 58.94,173.5 76.88,173.5 94.82,172 112.76,169.75 130.7,163 148.64,149.05 166.58,121.6 184.52,83.65 202.46,36.55 220.4,30.85 238.34,25.15"/>
<g fill="#bc3038" fill-opacity="0.3" stroke="#bc3038" stroke-width="0.7">
<circle cx="41" cy="173.5" r="1.6"/>
<circle cx="58.94" cy="173.5" r="1.6"/>
<circle cx="76.88" cy="173.5" r="1.6"/>
<circle cx="94.82" cy="172" r="1.6"/>
<circle cx="112.76" cy="169.75" r="1.6"/>
<circle cx="130.7" cy="163" r="1.6"/>
<circle cx="148.64" cy="149.05" r="1.6"/>
<circle cx="166.58" cy="121.6" r="1.6"/>
<circle cx="184.52" cy="83.65" r="1.6"/>
<circle cx="202.46" cy="36.55" r="1.6"/>
<circle cx="220.4" cy="30.85" r="1.6"/>
<circle cx="238.34" cy="25.15" r="1.6"/>
</g>
<polyline fill="none" stroke="#ff1fff" stroke-width="0.9" stroke-linejoin="round" points="41,173.5 58.94,173.5 76.88,173.5 94.82,172 112.76,171.25 130.7,170.05 148.64,167.05 166.58,166 184.52,163 202.46,161.95 220.4,159.4 238.34,158.05"/>
<g fill="#ff1fff" fill-opacity="0.15" stroke="#ff1fff" stroke-width="0.7">
<polygon points="39.1,174.64 42.9,174.64 41,171.69"/>
<polygon points="57.04,174.64 60.84,174.64 58.94,171.69"/>
<polygon points="74.98,174.64 78.78,174.64 76.88,171.69"/>
<polygon points="92.92,173.14 96.72,173.14 94.82,170.19"/>
<polygon points="110.86,172.39 114.66,172.39 112.76,169.44"/>
<polygon points="128.8,171.19 132.6,171.19 130.7,168.25"/>
<polygon points="146.74,168.19 150.54,168.19 148.64,165.25"/>
<polygon points="164.68,167.14 168.48,167.14 166.58,164.19"/>
<polygon points="182.62,164.14 186.42,164.14 184.52,161.19"/>
<polygon points="200.56,163.09 204.36,163.09 202.46,160.14"/>
<polygon points="218.5,160.54 222.3,160.54 220.4,157.59"/>
<polygon points="236.44,159.19 240.24,159.19 238.34,156.25"/>
</g>
</g>
<rect x="31.4" y="16" width="217.05" height="164.8" fill="none" stroke="#5a5a5a" stroke-width="0.85"/>
<g stroke="#444" stroke-width="0.55"><line x1="29.2" y1="173.5" x2="31.4" y2="173.5"/><line x1="29.2" y1="143.5" x2="31.4" y2="143.5"/><line x1="29.2" y1="113.5" x2="31.4" y2="113.5"/><line x1="29.2" y1="83.5" x2="31.4" y2="83.5"/><line x1="29.2" y1="53.5" x2="31.4" y2="53.5"/><line x1="29.2" y1="23.5" x2="31.4" y2="23.5"/><line x1="58.94" y1="180.8" x2="58.94" y2="183"/><line x1="94.82" y1="180.8" x2="94.82" y2="183"/><line x1="130.7" y1="180.8" x2="130.7" y2="183"/><line x1="166.58" y1="180.8" x2="166.58" y2="183"/><line x1="202.46" y1="180.8" x2="202.46" y2="183"/><line x1="238.34" y1="180.8" x2="238.34" y2="183"/></g>
<g font-family="DejaVu Sans, sans-serif" font-size="6.1" fill="#111" stroke="#111" stroke-width="0.12"><text x="26.9" y="175.6" text-anchor="end">0</text><text x="26.9" y="145.6" text-anchor="end">20</text><text x="26.9" y="115.6" text-anchor="end">40</text><text x="26.9" y="85.6" text-anchor="end">60</text><text x="26.9" y="55.6" text-anchor="end">80</text><text x="26.9" y="25.6" text-anchor="end">100</text><text x="58.94" y="190.1" text-anchor="middle">20</text><text x="94.82" y="190.1" text-anchor="middle">40</text><text x="130.7" y="190.1" text-anchor="middle">60</text><text x="166.58" y="190.1" text-anchor="middle">80</text><text x="202.46" y="190.1" text-anchor="middle">100</text><text x="238.34" y="190.1" text-anchor="middle">120</text></g>
<text x="139.92" y="199.6" text-anchor="middle" font-family="DejaVu Sans, sans-serif" font-size="7.3" fill="#111">Number of neuron(<tspan font-style="italic" font-size="6.2">η</tspan>=0.5)</text>
<text x="139.62" y="12.5" text-anchor="middle" font-family="Liberation Serif, serif" font-style="italic" font-size="9.1" fill="#111">AI</text>
<text transform="translate(11.4,98.5) rotate(-90)" text-anchor="middle" font-family="Liberation Serif, serif" font-style="italic" font-size="8.8" fill="#111">AI</text>
<rect x="32.5" y="17.5" width="39.2" height="94.5" rx="1.2" fill="#fff" fill-opacity="0.8" stroke="#d6d6d6" stroke-width="0.5"/>
<line x1="36" y1="24" x2="49" y2="24" stroke="#f7c518" stroke-width="0.81" stroke-opacity="0.8"/>
<g fill="#f7c518" fill-opacity="0.55" stroke="#f7c518" stroke-width="0.7"><circle cx="42.5" cy="24" r="1.6"/></g>
<text x="54" y="26.1" font-family="DejaVu Sans, sans-serif" font-size="6.1" fill="#111" stroke="#111" stroke-width="0.12">GA</text>
<line x1="36" y1="33.17" x2="49" y2="33.17" stroke="#b640c8" stroke-width="0.81" stroke-opacity="0.8"/>
<g fill="#b640c8" fill-opacity="0.2" stroke="#b640c8" stroke-width="0.7"><circle cx="42.5" cy="33.17" r="1.6"/></g>
<text x="54" y="35.27" font-family="DejaVu Sans, sans-serif" font-size="6.1" fill="#111" stroke="#111" stroke-width="0.12">ABC</text>
<line x1="36" y1="42.34" x2="49" y2="42.34" stroke="#ff8a3d" stroke-width="0.81" stroke-opacity="0.8"/>
<g fill="#ff8a3d" fill-opacity="0.15" stroke="#ff8a3d" stroke-width="0.7"><polygon points="40.6,41.2 44.4,41.2 42.5,44.15"/></g>
<text x="54" y="44.44" font-family="DejaVu Sans, sans-serif" font-size="6.1" fill="#111" stroke="#111" stroke-width="0.12">EDA</text>
<line x1="36" y1="51.51" x2="49" y2="51.51" stroke="#1f1f95" stroke-width="0.81" stroke-opacity="0.8"/>
<g fill="#1f1f95" fill-opacity="1.0" stroke="#1f1f95" stroke-width="0.7"><polygon points="40.6,50.37 44.4,50.37 42.5,53.31"/></g>
<text x="54" y="53.61" font-family="DejaVu Sans, sans-serif" font-size="6.1" fill="#111" stroke="#111" stroke-width="0.12">PSO</text>
<line x1="36" y1="60.68" x2="49" y2="60.68" stroke="#66c466" stroke-width="0.81" stroke-opacity="0.8"/>
<g fill="#66c466" fill-opacity="0.2" stroke="#66c466" stroke-width="0.7"><circle cx="42.5" cy="60.68" r="1.6"/></g>
<text x="54" y="62.78" font-family="DejaVu Sans, sans-serif" font-size="6.1" fill="#111" stroke="#111" stroke-width="0.12">ACO</text>
<line x1="36" y1="69.85" x2="49" y2="69.85" stroke="#bc8c1e" stroke-width="0.81" stroke-opacity="0.8"/>
<g fill="#bc8c1e" fill-opacity="0.6" stroke="#bc8c1e" stroke-width="0.7"><polygon points="40.6,68.71 44.4,68.71 42.5,71.66"/></g>
<text x="54" y="71.95" font-family="DejaVu Sans, sans-serif" font-size="6.1" fill="#111" stroke="#111" stroke-width="0.12">DE</text>
<line x1="36" y1="79.02" x2="49" y2="79.02" stroke="#26c058" stroke-width="0.81" stroke-opacity="0.8"/>
<g fill="#26c058" fill-opacity="1.0" stroke="#26c058" stroke-width="0.7"><polygon points="40.6,77.88 44.4,77.88 42.5,80.83"/></g>
<text x="54" y="81.12" font-family="DejaVu Sans, sans-serif" font-size="6.1" fill="#111" stroke="#111" stroke-width="0.12">EA</text>
<line x1="36" y1="88.19" x2="49" y2="88.19" stroke="#808080" stroke-width="0.81" stroke-opacity="0.8"/>
<g fill="#808080" fill-opacity="0.1" stroke="#808080" stroke-width="0.7"><circle cx="42.5" cy="88.19" r="1.6"/></g>
<text x="54" y="90.29" font-family="DejaVu Sans, sans-serif" font-size="6.1" fill="#111" stroke="#111" stroke-width="0.12">SA</text>
<line x1="36" y1="97.36" x2="49" y2="97.36" stroke="#bc3038" stroke-width="0.81" stroke-opacity="0.8"/>
<g fill="#bc3038" fill-opacity="0.3" stroke="#bc3038" stroke-width="0.7"><circle cx="42.5" cy="97.36" r="1.6"/></g>
<text x="54" y="99.46" font-family="DejaVu Sans, sans-serif" font-size="6.1" fill="#111" stroke="#111" stroke-width="0.12">GWO</text>
<line x1="36" y1="106.53" x2="49" y2="106.53" stroke="#ff1fff" stroke-width="0.81" stroke-opacity="0.8"/>
<g fill="#ff1fff" fill-opacity="0.15" stroke="#ff1fff" stroke-width="0.7"><polygon points="40.6,107.67 44.4,107.67 42.5,104.72"/></g>
<text x="54" y="108.63" font-family="DejaVu Sans, sans-serif" font-size="6.1" fill="#111" stroke="#111" stroke-width="0.12">MTS</text>
<g font-family="Liberation Serif, serif" font-size="11.8" fill="#111"><text x="56.5" y="220.7" font-weight="bold" textLength="13.2" lengthAdjust="spacingAndGlyphs">(e)</text><text x="77.3" y="220.7" font-style="italic" font-size="8.6" textLength="10.6" lengthAdjust="spacingAndGlyphs">AI</text><text x="95.5" y="220.7" textLength="50" lengthAdjust="spacingAndGlyphs">evaluation</text><text x="148.6" y="220.7" textLength="28.8" lengthAdjust="spacingAndGlyphs">when</text><text x="184.8" y="220.7" font-style="italic">η</text><text x="191.8" y="220.7" textLength="7.4" lengthAdjust="spacingAndGlyphs">=</text><text x="201" y="220.7" textLength="12.8" lengthAdjust="spacingAndGlyphs">0.5</text></g>
</g>
<g transform="translate(295,476)">
<clipPath id="clf"><rect x="31.4" y="16" width="217.05" height="164.8"/></clipPath>
<g clip-path="url(#clf)">
<polyline fill="none" stroke="#f7c518" stroke-width="0.9" stroke-linejoin="round" points="41,173.5 58.94,173.5 76.88,172.75 94.82,170.5 112.76,167.5 130.7,164.5 148.64,160 166.58,155.05 184.52,152.5 202.46,149.05 220.4,147.55 238.34,141.55"/>
<g fill="#f7c518" fill-opacity="0.55" stroke="#f7c518" stroke-width="0.7">
<circle cx="41" cy="173.5" r="1.6"/>
<circle cx="58.94" cy="173.5" r="1.6"/>
<circle cx="76.88" cy="172.75" r="1.6"/>
<circle cx="94.82" cy="170.5" r="1.6"/>
<circle cx="112.76" cy="167.5" r="1.6"/>
<circle cx="130.7" cy="164.5" r="1.6"/>
<circle cx="148.64" cy="160" r="1.6"/>
<circle cx="166.58" cy="155.05" r="1.6"/>
<circle cx="184.52" cy="152.5" r="1.6"/>
<circle cx="202.46" cy="149.05" r="1.6"/>
<circle cx="220.4" cy="147.55" r="1.6"/>
<circle cx="238.34" cy="141.55" r="1.6"/>
</g>
<polyline fill="none" stroke="#b640c8" stroke-width="0.9" stroke-linejoin="round" points="41,173.5 58.94,173.5 76.88,173.5 94.82,172.75 112.76,172 130.7,172 148.64,172 166.58,172 184.52,172 202.46,172 220.4,172 238.34,172"/>
<g fill="#b640c8" fill-opacity="0.2" stroke="#b640c8" stroke-width="0.7">
<circle cx="41" cy="173.5" r="1.6"/>
<circle cx="58.94" cy="173.5" r="1.6"/>
<circle cx="76.88" cy="173.5" r="1.6"/>
<circle cx="94.82" cy="172.75" r="1.6"/>
<circle cx="112.76" cy="172" r="1.6"/>
<circle cx="130.7" cy="172" r="1.6"/>
<circle cx="148.64" cy="172" r="1.6"/>
<circle cx="166.58" cy="172" r="1.6"/>
<circle cx="184.52" cy="172" r="1.6"/>
<circle cx="202.46" cy="172" r="1.6"/>
<circle cx="220.4" cy="172" r="1.6"/>
<circle cx="238.34" cy="172" r="1.6"/>
</g>
<polyline fill="none" stroke="#ff8a3d" stroke-width="0.9" stroke-linejoin="round" points="41,173.5 58.94,173.5 76.88,172.75 94.82,170.5 112.76,166 130.7,163 148.64,158.95 166.58,148.6 184.52,152.5 202.46,143.95 220.4,125.65 238.34,125.05"/>
<g fill="#ff8a3d" fill-opacity="0.15" stroke="#ff8a3d" stroke-width="0.7">
<polygon points="39.1,172.36 42.9,172.36 41,175.31"/>
<polygon points="57.04,172.36 60.84,172.36 58.94,175.31"/>
<polygon points="74.98,171.61 78.78,171.61 76.88,174.56"/>
<polygon points="92.92,169.36 96.72,169.36 94.82,172.31"/>
<polygon points="110.86,164.86 114.66,164.86 112.76,167.81"/>
<polygon points="128.8,161.86 132.6,161.86 130.7,164.81"/>
<polygon points="146.74,157.81 150.54,157.81 148.64,160.75"/>
<polygon points="164.68,147.46 168.48,147.46 166.58,150.41"/>
<polygon points="182.62,151.36 186.42,151.36 184.52,154.31"/>
<polygon points="200.56,142.81 204.36,142.81 202.46,145.75"/>
<polygon points="218.5,124.51 222.3,124.51 220.4,127.46"/>
<polygon points="236.44,123.91 240.24,123.91 238.34,126.86"/>
</g>
<polyline fill="none" stroke="#1f1f95" stroke-width="0.9" stroke-linejoin="round" points="41,173.5 58.94,173.5 76.88,172.75 94.82,170.5 112.76,164.05 130.7,142.6 148.64,92.65 166.58,57.7 184.52,33.25 202.46,25 220.4,23.5 238.34,23.5"/>
<g fill="#1f1f95" fill-opacity="1.0" stroke="#1f1f95" stroke-width="0.7">
<polygon points="39.1,172.36 42.9,172.36 41,175.31"/>
<polygon points="57.04,172.36 60.84,172.36 58.94,175.31"/>
<polygon points="74.98,171.61 78.78,171.61 76.88,174.56"/>
<polygon points="92.92,169.36 96.72,169.36 94.82,172.31"/>
<polygon points="110.86,162.91 114.66,162.91 112.76,165.86"/>
<polygon points="128.8,141.46 132.6,141.46 130.7,144.41"/>
<polygon points="146.74,91.51 150.54,91.51 148.64,94.46"/>
<polygon points="164.68,56.56 168.48,56.56 166.58,59.5"/>
<polygon points="182.62,32.11 186.42,32.11 184.52,35.05"/>
<polygon points="200.56,23.86 204.36,23.86 202.46,26.8"/>
<polygon points="218.5,22.36 222.3,22.36 220.4,25.3"/>
<polygon points="236.44,22.36 240.24,22.36 238.34,25.3"/>
</g>
<polyline fill="none" stroke="#66c466" stroke-width="0.9" stroke-linejoin="round" points="41,173.5 58.94,173.5 76.88,172.75 94.82,171.25 112.76,168.25 130.7,165.25 148.64,159.25 166.58,158.05 184.52,153.55 202.46,146.35 220.4,142.45 238.34,134.05"/>
<g fill="#66c466" fill-opacity="0.2" stroke="#66c466" stroke-width="0.7">
<circle cx="41" cy="173.5" r="1.6"/>
<circle cx="58.94" cy="173.5" r="1.6"/>
<circle cx="76.88" cy="172.75" r="1.6"/>
<circle cx="94.82" cy="171.25" r="1.6"/>
<circle cx="112.76" cy="168.25" r="1.6"/>
<circle cx="130.7" cy="165.25" r="1.6"/>
<circle cx="148.64" cy="159.25" r="1.6"/>
<circle cx="166.58" cy="158.05" r="1.6"/>
<circle cx="184.52" cy="153.55" r="1.6"/>
<circle cx="202.46" cy="146.35" r="1.6"/>
<circle cx="220.4" cy="142.45" r="1.6"/>
<circle cx="238.34" cy="134.05" r="1.6"/>
</g>
<polyline fill="none" stroke="#bc8c1e" stroke-width="0.9" stroke-linejoin="round" points="41,173.5 58.94,173.5 76.88,172.75 94.82,170.5 112.76,160 130.7,135.55 148.64,85 166.58,47.65 184.52,27.25 202.46,25 220.4,23.5 238.34,23.5"/>
<g fill="#bc8c1e" fill-opacity="0.6" stroke="#bc8c1e" stroke-width="0.7">
<polygon points="39.1,172.36 42.9,172.36 41,175.31"/>
<polygon points="57.04,172.36 60.84,172.36 58.94,175.31"/>
<polygon points="74.98,171.61 78.78,171.61 76.88,174.56"/>
<polygon points="92.92,169.36 96.72,169.36 94.82,172.31"/>
<polygon points="110.86,158.86 114.66,158.86 112.76,161.81"/>
<polygon points="128.8,134.41 132.6,134.41 130.7,137.36"/>
<polygon points="146.74,83.86 150.54,83.86 148.64,86.81"/>
<polygon points="164.68,46.51 168.48,46.51 166.58,49.45"/>
<polygon points="182.62,26.11 186.42,26.11 184.52,29.05"/>
<polygon points="200.56,23.86 204.36,23.86 202.46,26.8"/>
<polygon points="218.5,22.36 222.3,22.36 220.4,25.3"/>
<polygon points="236.44,22.36 240.24,22.36 238.34,25.3"/>
</g>
<polyline fill="none" stroke="#26c058" stroke-width="0.9" stroke-linejoin="round" points="41,173.5 58.94,173.5 76.88,172.75 94.82,171.25 112.76,168.25 130.7,164.5 148.64,160 166.58,158.05 184.52,154 202.46,149.95 220.4,145.6 238.34,143.05"/>
<g fill="#26c058" fill-opacity="1.0" stroke="#26c058" stroke-width="0.7">
<polygon points="39.1,172.36 42.9,172.36 41,175.31"/>
<polygon points="57.04,172.36 60.84,172.36 58.94,175.31"/>
<polygon points="74.98,171.61 78.78,171.61 76.88,174.56"/>
<polygon points="92.92,170.11 96.72,170.11 94.82,173.06"/>
<polygon points="110.86,167.11 114.66,167.11 112.76,170.06"/>
<polygon points="128.8,163.36 132.6,163.36 130.7,166.31"/>
<polygon points="146.74,158.86 150.54,158.86 148.64,161.81"/>
<polygon points="164.68,156.91 168.48,156.91 166.58,159.86"/>
<polygon points="182.62,152.86 186.42,152.86 184.52,155.81"/>
<polygon points="200.56,148.81 204.36,148.81 202.46,151.75"/>
<polygon points="218.5,144.46 222.3,144.46 220.4,147.41"/>
<polygon points="236.44,141.91 240.24,141.91 238.34,144.86"/>
</g>
<polyline fill="none" stroke="#808080" stroke-width="0.9" stroke-linejoin="round" points="41,173.5 58.94,173.5 76.88,172.75 94.82,169.75 112.76,154.6 130.7,111.4 148.64,50.65 166.58,35.95 184.52,25.15 202.46,24.7 220.4,23.5 238.34,23.5"/>
<g fill="#808080" fill-opacity="0.1" stroke="#808080" stroke-width="0.7">
<circle cx="41" cy="173.5" r="1.6"/>
<circle cx="58.94" cy="173.5" r="1.6"/>
<circle cx="76.88" cy="172.75" r="1.6"/>
<circle cx="94.82" cy="169.75" r="1.6"/>
<circle cx="112.76" cy="154.6" r="1.6"/>
<circle cx="130.7" cy="111.4" r="1.6"/>
<circle cx="148.64" cy="50.65" r="1.6"/>
<circle cx="166.58" cy="35.95" r="1.6"/>
<circle cx="184.52" cy="25.15" r="1.6"/>
<circle cx="202.46" cy="24.7" r="1.6"/>
<circle cx="220.4" cy="23.5" r="1.6"/>
<circle cx="238.34" cy="23.5" r="1.6"/>
</g>
<polyline fill="none" stroke="#bc3038" stroke-width="0.9" stroke-linejoin="round" points="41,173.5 58.94,173.5 76.88,173.5 94.82,172 112.76,169.75 130.7,163.6 148.64,152.5 166.58,120.55 184.52,71.5 202.46,41.05 220.4,30.25 238.34,26.5"/>
<g fill="#bc3038" fill-opacity="0.3" stroke="#bc3038" stroke-width="0.7">
<circle cx="41" cy="173.5" r="1.6"/>
<circle cx="58.94" cy="173.5" r="1.6"/>
<circle cx="76.88" cy="173.5" r="1.6"/>
<circle cx="94.82" cy="172" r="1.6"/>
<circle cx="112.76" cy="169.75" r="1.6"/>
<circle cx="130.7" cy="163.6" r="1.6"/>
<circle cx="148.64" cy="152.5" r="1.6"/>
<circle cx="166.58" cy="120.55" r="1.6"/>
<circle cx="184.52" cy="71.5" r="1.6"/>
<circle cx="202.46" cy="41.05" r="1.6"/>
<circle cx="220.4" cy="30.25" r="1.6"/>
<circle cx="238.34" cy="26.5" r="1.6"/>
</g>
<polyline fill="none" stroke="#ff1fff" stroke-width="0.9" stroke-linejoin="round" points="41,173.5 58.94,173.5 76.88,173.5 94.82,172 112.76,169.6 130.7,169 148.64,167.05 166.58,164.95 184.52,164.05 202.46,161.35 220.4,158.95 238.34,157"/>
<g fill="#ff1fff" fill-opacity="0.15" stroke="#ff1fff" stroke-width="0.7">
<polygon points="39.1,174.64 42.9,174.64 41,171.69"/>
<polygon points="57.04,174.64 60.84,174.64 58.94,171.69"/>
<polygon points="74.98,174.64 78.78,174.64 76.88,171.69"/>
<polygon points="92.92,173.14 96.72,173.14 94.82,170.19"/>
<polygon points="110.86,170.74 114.66,170.74 112.76,167.79"/>
<polygon points="128.8,170.14 132.6,170.14 130.7,167.19"/>
<polygon points="146.74,168.19 150.54,168.19 148.64,165.25"/>
<polygon points="164.68,166.09 168.48,166.09 166.58,163.14"/>
<polygon points="182.62,165.19 186.42,165.19 184.52,162.25"/>
<polygon points="200.56,162.49 204.36,162.49 202.46,159.54"/>
<polygon points="218.5,160.09 222.3,160.09 220.4,157.14"/>
<polygon points="236.44,158.14 240.24,158.14 238.34,155.19"/>
</g>
</g>
<rect x="31.4" y="16" width="217.05" height="164.8" fill="none" stroke="#5a5a5a" stroke-width="0.85"/>
<g stroke="#444" stroke-width="0.55"><line x1="29.2" y1="173.5" x2="31.4" y2="173.5"/><line x1="29.2" y1="143.5" x2="31.4" y2="143.5"/><line x1="29.2" y1="113.5" x2="31.4" y2="113.5"/><line x1="29.2" y1="83.5" x2="31.4" y2="83.5"/><line x1="29.2" y1="53.5" x2="31.4" y2="53.5"/><line x1="29.2" y1="23.5" x2="31.4" y2="23.5"/><line x1="58.94" y1="180.8" x2="58.94" y2="183"/><line x1="94.82" y1="180.8" x2="94.82" y2="183"/><line x1="130.7" y1="180.8" x2="130.7" y2="183"/><line x1="166.58" y1="180.8" x2="166.58" y2="183"/><line x1="202.46" y1="180.8" x2="202.46" y2="183"/><line x1="238.34" y1="180.8" x2="238.34" y2="183"/></g>
<g font-family="DejaVu Sans, sans-serif" font-size="6.1" fill="#111" stroke="#111" stroke-width="0.12"><text x="26.9" y="175.6" text-anchor="end">0</text><text x="26.9" y="145.6" text-anchor="end">20</text><text x="26.9" y="115.6" text-anchor="end">40</text><text x="26.9" y="85.6" text-anchor="end">60</text><text x="26.9" y="55.6" text-anchor="end">80</text><text x="26.9" y="25.6" text-anchor="end">100</text><text x="58.94" y="190.1" text-anchor="middle">20</text><text x="94.82" y="190.1" text-anchor="middle">40</text><text x="130.7" y="190.1" text-anchor="middle">60</text><text x="166.58" y="190.1" text-anchor="middle">80</text><text x="202.46" y="190.1" text-anchor="middle">100</text><text x="238.34" y="190.1" text-anchor="middle">120</text></g>
<text x="139.92" y="199.6" text-anchor="middle" font-family="DejaVu Sans, sans-serif" font-size="7.3" fill="#111">Number of neuron(<tspan font-style="italic" font-size="6.2">η</tspan>=0.6)</text>
<text x="139.62" y="12.5" text-anchor="middle" font-family="Liberation Serif, serif" font-style="italic" font-size="9.1" fill="#111">AI</text>
<text transform="translate(11.4,98.5) rotate(-90)" text-anchor="middle" font-family="Liberation Serif, serif" font-style="italic" font-size="8.8" fill="#111">AI</text>
<rect x="32.5" y="17.5" width="39.2" height="94.5" rx="1.2" fill="#fff" fill-opacity="0.8" stroke="#d6d6d6" stroke-width="0.5"/>
<line x1="36" y1="24" x2="49" y2="24" stroke="#f7c518" stroke-width="0.81" stroke-opacity="0.8"/>
<g fill="#f7c518" fill-opacity="0.55" stroke="#f7c518" stroke-width="0.7"><circle cx="42.5" cy="24" r="1.6"/></g>
<text x="54" y="26.1" font-family="DejaVu Sans, sans-serif" font-size="6.1" fill="#111" stroke="#111" stroke-width="0.12">GA</text>
<line x1="36" y1="33.17" x2="49" y2="33.17" stroke="#b640c8" stroke-width="0.81" stroke-opacity="0.8"/>
<g fill="#b640c8" fill-opacity="0.2" stroke="#b640c8" stroke-width="0.7"><circle cx="42.5" cy="33.17" r="1.6"/></g>
<text x="54" y="35.27" font-family="DejaVu Sans, sans-serif" font-size="6.1" fill="#111" stroke="#111" stroke-width="0.12">ABC</text>
<line x1="36" y1="42.34" x2="49" y2="42.34" stroke="#ff8a3d" stroke-width="0.81" stroke-opacity="0.8"/>
<g fill="#ff8a3d" fill-opacity="0.15" stroke="#ff8a3d" stroke-width="0.7"><polygon points="40.6,41.2 44.4,41.2 42.5,44.15"/></g>
<text x="54" y="44.44" font-family="DejaVu Sans, sans-serif" font-size="6.1" fill="#111" stroke="#111" stroke-width="0.12">EDA</text>
<line x1="36" y1="51.51" x2="49" y2="51.51" stroke="#1f1f95" stroke-width="0.81" stroke-opacity="0.8"/>
<g fill="#1f1f95" fill-opacity="1.0" stroke="#1f1f95" stroke-width="0.7"><polygon points="40.6,50.37 44.4,50.37 42.5,53.31"/></g>
<text x="54" y="53.61" font-family="DejaVu Sans, sans-serif" font-size="6.1" fill="#111" stroke="#111" stroke-width="0.12">PSO</text>
<line x1="36" y1="60.68" x2="49" y2="60.68" stroke="#66c466" stroke-width="0.81" stroke-opacity="0.8"/>
<g fill="#66c466" fill-opacity="0.2" stroke="#66c466" stroke-width="0.7"><circle cx="42.5" cy="60.68" r="1.6"/></g>
<text x="54" y="62.78" font-family="DejaVu Sans, sans-serif" font-size="6.1" fill="#111" stroke="#111" stroke-width="0.12">ACO</text>
<line x1="36" y1="69.85" x2="49" y2="69.85" stroke="#bc8c1e" stroke-width="0.81" stroke-opacity="0.8"/>
<g fill="#bc8c1e" fill-opacity="0.6" stroke="#bc8c1e" stroke-width="0.7"><polygon points="40.6,68.71 44.4,68.71 42.5,71.66"/></g>
<text x="54" y="71.95" font-family="DejaVu Sans, sans-serif" font-size="6.1" fill="#111" stroke="#111" stroke-width="0.12">DE</text>
<line x1="36" y1="79.02" x2="49" y2="79.02" stroke="#26c058" stroke-width="0.81" stroke-opacity="0.8"/>
<g fill="#26c058" fill-opacity="1.0" stroke="#26c058" stroke-width="0.7"><polygon points="40.6,77.88 44.4,77.88 42.5,80.83"/></g>
<text x="54" y="81.12" font-family="DejaVu Sans, sans-serif" font-size="6.1" fill="#111" stroke="#111" stroke-width="0.12">EA</text>
<line x1="36" y1="88.19" x2="49" y2="88.19" stroke="#808080" stroke-width="0.81" stroke-opacity="0.8"/>
<g fill="#808080" fill-opacity="0.1" stroke="#808080" stroke-width="0.7"><circle cx="42.5" cy="88.19" r="1.6"/></g>
<text x="54" y="90.29" font-family="DejaVu Sans, sans-serif" font-size="6.1" fill="#111" stroke="#111" stroke-width="0.12">SA</text>
<line x1="36" y1="97.36" x2="49" y2="97.36" stroke="#bc3038" stroke-width="0.81" stroke-opacity="0.8"/>
<g fill="#bc3038" fill-opacity="0.3" stroke="#bc3038" stroke-width="0.7"><circle cx="42.5" cy="97.36" r="1.6"/></g>
<text x="54" y="99.46" font-family="DejaVu Sans, sans-serif" font-size="6.1" fill="#111" stroke="#111" stroke-width="0.12">GWO</text>
<line x1="36" y1="106.53" x2="49" y2="106.53" stroke="#ff1fff" stroke-width="0.81" stroke-opacity="0.8"/>
<g fill="#ff1fff" fill-opacity="0.15" stroke="#ff1fff" stroke-width="0.7"><polygon points="40.6,107.67 44.4,107.67 42.5,104.72"/></g>
<text x="54" y="108.63" font-family="DejaVu Sans, sans-serif" font-size="6.1" fill="#111" stroke="#111" stroke-width="0.12">MTS</text>
<g font-family="Liberation Serif, serif" font-size="11.8" fill="#111"><text x="56.5" y="220.7" font-weight="bold" textLength="13.2" lengthAdjust="spacingAndGlyphs">(f)</text><text x="77.3" y="220.7" font-style="italic" font-size="8.6" textLength="10.6" lengthAdjust="spacingAndGlyphs">AI</text><text x="95.5" y="220.7" textLength="50" lengthAdjust="spacingAndGlyphs">evaluation</text><text x="148.6" y="220.7" textLength="28.8" lengthAdjust="spacingAndGlyphs">when</text><text x="184.8" y="220.7" font-style="italic">η</text><text x="191.8" y="220.7" textLength="7.4" lengthAdjust="spacingAndGlyphs">=</text><text x="201" y="220.7" textLength="12.8" lengthAdjust="spacingAndGlyphs">0.6</text></g>
</g>
</svg>
</body></html>
